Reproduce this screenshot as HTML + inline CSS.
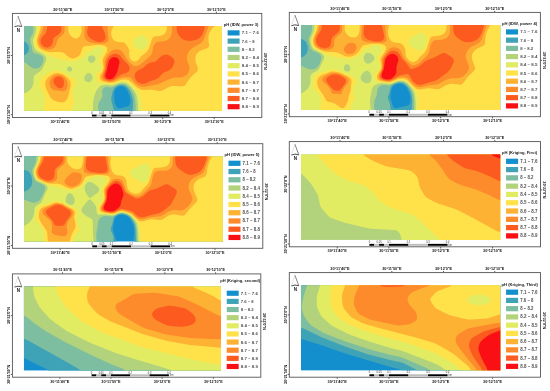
<!DOCTYPE html><html><head><meta charset="utf-8"><title>pH interpolation maps</title><style>
html,body{margin:0;padding:0;background:#fff}svg{display:block}
text{font-family:"Liberation Sans",sans-serif}
.t{font-size:4.3px;font-weight:bold;fill:#111}
.lt{font-size:4.3px;font-weight:bold;fill:#222}
.l{font-size:4.4px;fill:#505050;font-weight:bold}
.s{font-size:2.6px;fill:#333}
.k{stroke:#333;stroke-width:0.8;fill:none}
</style></head><body>
<svg width="550" height="391" viewBox="0 0 550 391">
<rect width="550" height="391" fill="#fff"/>
<g transform="translate(12.40 13.40) scale(1.0000 1.0000)">
<text class="t" x="40.7" y="-2.5" textLength="19.2" lengthAdjust="spacingAndGlyphs">30°11'40"E</text>
<text class="t" x="38" y="109.6" textLength="19.2" lengthAdjust="spacingAndGlyphs">30°11'40"E</text>
<path class="k" d="M50.3,0v-1.6M47.6,104.1v1.6"/>
<text class="t" x="92.2" y="-2.5" textLength="19.2" lengthAdjust="spacingAndGlyphs">30°11'50"E</text>
<text class="t" x="89.3" y="109.6" textLength="19.2" lengthAdjust="spacingAndGlyphs">30°11'50"E</text>
<path class="k" d="M101.8,0v-1.6M98.9,104.1v1.6"/>
<text class="t" x="144.6" y="-2.5" textLength="17.0" lengthAdjust="spacingAndGlyphs">30°12'0"E</text>
<text class="t" x="141.8" y="109.6" textLength="17.0" lengthAdjust="spacingAndGlyphs">30°12'0"E</text>
<path class="k" d="M153.1,0v-1.6M150.3,104.1v1.6"/>
<text class="t" x="194.6" y="-2.5" textLength="18.8" lengthAdjust="spacingAndGlyphs">30°12'10"E</text>
<text class="t" x="192.4" y="109.6" textLength="18.8" lengthAdjust="spacingAndGlyphs">30°12'10"E</text>
<path class="k" d="M204,0v-1.6M201.8,104.1v1.6"/>
<text class="t" transform="translate(-2.6 42.1) rotate(-90)" x="-8.5" textLength="17.0" lengthAdjust="spacingAndGlyphs">30°22'0"N</text>
<path class="k" d="M0,42.1h-1.6"/>
<text class="t" transform="translate(-2.6 101.3) rotate(-90)" x="-9.5" textLength="19.0" lengthAdjust="spacingAndGlyphs">30°21'50"N</text>
<path class="k" d="M0,101.3h-1.6"/>
<text class="t" transform="translate(251.6 47.8) rotate(90)" x="-8.5" textLength="17.0" lengthAdjust="spacingAndGlyphs">30°22'0"N</text>
<path class="k" d="M249.4,47.8h1.6"/>
<rect x="0" y="0" width="249.4" height="104.1" fill="#fff" stroke="#555" stroke-width="0.9"/>
<g transform="translate(11.6 12.7)">
<rect x="0" y="0" width="197.8" height="84.6" fill="#138fce"/>
<path fill="#3fa3b7" fill-rule="evenodd" d="M0,0 197.8,0 197.8,84.6 0,84.6ZM94.9,60.4 93.4,61.1 91.7,62.6 90.9,64.1 90.3,66.1 90.1,68.6 90.4,73.6 90.7,76.1 91.6,78.6 92.4,80.2 93.4,81.3 94.4,81.9 95.4,82.1 97.9,81.9 103.4,80.5 104.7,79.6 105.6,78.6 106.2,77.1 106.5,75.1 106.5,73.6 106.1,71.6 103.9,65.6 102.4,62.9 101.4,61.9 100.3,61.1 99.3,60.6 97.9,60.2 96.4,60.2Z"/>
<path fill="#7dbda0" fill-rule="evenodd" d="M0,0 197.8,0 197.8,84.6 108.5,84.6 109,77.1 108.9,74.1 108.2,70.6 106.9,67.1 105.1,63.6 102.9,61 101.7,60.1 100.4,59.4 98.9,59 97.4,58.8 95.9,58.9 94.4,59.3 91.9,60.6 90.7,61.6 89.9,62.6 88.8,65.1 87.5,70.1 87.2,73.1 87.5,75.1 88.9,80.2 89.8,84.6 0,84.6 0,29.1 2,28.2 3.5,26.7 4.5,25 5,22.5 4.6,20 3.5,18 2,16.5 0,15.5Z"/>
<path fill="#b2d27c" fill-rule="evenodd" d="M8.7,0 197.8,0 197.8,84.6 111.6,84.6 111.4,77.1 111.1,73.6 110.4,70.1 109,66.6 106.5,62.6 103.9,59.8 102.4,58.8 100.9,58.1 99.4,57.8 97.9,57.6 95.9,57.8 93.9,58.3 92.1,59.1 88.9,60.8 87.4,61.4 86.4,61.4 83.9,60.8 82.4,60.7 80.9,61.1 79.4,62.1 78.5,63.6 78.1,65.1 78.1,66.6 78.5,69.1 78.4,70.6 77.6,72.1 75.4,75.3 74.4,78.1 74.1,81.1 74.6,84.6 0,84.6 0,36.4 1.5,36.7 2.5,37.3 6,40.4 8,41.7 10,42.4 12.5,42.5 14,42.1 15,41.6 17,39.9 18,38.5 18.7,37 19.5,34.3 19.5,33 19.2,32 18.7,31 17.9,30 15.5,28.5 10,26.9 9.1,26 8.7,25 7.7,20 6.1,15 6,13.5 6.3,12 8.5,8.2 9.2,6 9.4,4.5 9.4,3Z"/>
<path fill="#e2ec62" fill-rule="evenodd" d="M12,0 197.8,0 197.8,84.6 114.2,84.6 114,78.1 113.4,73.1 112.5,69.1 111.2,66.1 108.3,62.1 106.5,60.1 104.9,58.6 103.4,57.7 101.9,57 100.4,56.6 98.4,56.4 96.9,56.5 94.9,56.8 89.9,58.7 88.4,59.1 86.9,59.1 82.4,58.5 79.4,58.8 76.9,59.7 75.6,60.6 74.5,61.6 73.2,63.1 72.1,65.1 70.6,69.1 69.5,73.1 68.9,77.1 69,84.6 0,84.6 0,67.3 2,66.6 4,65.4 6,63.8 7.5,62 8.5,60.1 9.2,58.1 9.5,55.6 9.6,51.6 10,49.9 11.1,48.6 16,45.5 18,43.5 19.3,41 21.7,35.5 22.3,33.5 22.3,32.5 22.1,31.5 21.6,30.5 20.8,29.5 18.5,27.7 13.5,25.1 12,24 10.9,22.5 9.9,20 9.1,16.5 9,14 9.4,12.5 11.1,8 11.8,5.5 12.1,3ZM45,40.4 44,41 43.5,41.5 43.2,42.6 43.2,43.6 43.7,44.6 44.5,45.2 45.5,45.6 46.5,45.4 47.5,44.8 47.9,44.1 48.1,43.1 48,42.2 47.5,41.3 46.5,40.6ZM66.4,29.4 65.3,30 64.4,31 63.9,32.5 64,34 64.8,35.5 65.9,36.5 66.9,36.8 68.4,36.7 69.9,36 70.9,34.8 71.4,33.5 71.4,32 70.5,30.5 69.4,29.7 67.9,29.2ZM63.9,47 62.4,47.8 61.2,49.1 60.4,50.6 60.2,51.6 60.2,52.6 60.8,54.1 61.9,55.2 63.4,55.9 64.9,56.1 66.4,55.6 67.6,54.6 68.4,53 68.6,51.1 68,49.1 66.9,47.8 65.4,47Z"/>
<path fill="#ffe14a" fill-rule="evenodd" d="M14.3,0 197.8,0 197.8,84.6 117.5,84.6 117.7,77.6 116.3,70.1 115.6,68.1 114.4,66.1 112.7,64.1 107.4,58.6 104.9,56.6 103.4,55.8 101.9,55.3 100.4,55.1 98.4,55 95.4,55.5 89.4,57.6 86.9,57.8 75.9,56.8 74.4,56.3 73.7,55.6 73.2,54.6 72.8,52.6 72.6,49.6 72.8,48.1 73.4,47 75.4,45.6 76.6,44.6 77.4,43.3 77.7,42 77.4,40 75.6,37 75.3,35.5 75.6,32.5 76,30.5 76.5,29.5 78.5,27 79.4,25 79.4,24 79.2,23 78.5,22 78,21.5 76.9,21 75.4,20.6 73.9,20.6 72.4,21 71.4,21.5 68.4,23.7 64.9,24.8 62.9,25.9 61.4,27.3 59.2,30.5 57.9,31.8 49.5,35.2 48,35.3 45.5,35 42.5,34.4 38,33.1 33,32.4 31.5,32 26.5,29.8 16,24.4 13.6,22.5 12.2,20.5 11.2,17.5 11,14.5 11.5,12 13.8,5 14.2,2.5ZM116.4,9.4 113.4,10.6 111.9,11.5 110.8,12.5 109.5,14.5 109.3,15.5 109.2,17 109.6,18.5 110,19.5 110.7,20.5 111.9,21.7 113.4,22.7 114.9,23.3 116.4,23.7 117.9,23.7 119.4,23.3 120.4,22.8 121.4,22 122.1,21 122.9,19.7 123.4,18 123.6,15 123.4,13.5 122.9,12.3 121.4,10.4 120.4,9.7 118.9,9.3 117.9,9.2ZM29.3,44.6 30.5,44.1 32,44.1 39.5,46.3 44,49.2 49,51.8 50.3,53.1 51.2,54.6 51.6,56.1 51.6,57.1 51.1,58.6 49.5,62.4 48.9,65.6 49,68.1 50.2,72.6 50.3,74.6 50,76.1 48.4,81.1 47.9,84.6 20.1,84.6 20.1,80.1 21,74.6 20.9,71.6 20.5,69.7 19.9,68.1 16.7,62.6 16.1,61.1 15.7,59.6 15.6,58.1 16,55.1 16.5,53.6 17.3,52.1 18.5,50.6 19.7,49.6 22.5,47.8Z"/>
<path fill="#fdb233" fill-rule="evenodd" d="M16.7,0 44.4,0 44.1,2.5 44.2,4.5 44.7,6.5 45.4,8 47,9.9 48.5,11.2 50.4,12.2 51.9,12.4 53.4,12.1 54.4,11.5 55.4,10.5 56.4,8.8 57.2,6.5 57.6,4.5 57.6,2.5 57.4,0 89.9,0 87.9,3.5 87.3,6 87.2,7.5 87.4,9.3 87.9,11 88.6,12.5 89.9,14.1 91.9,15.3 93.9,15.8 98.9,16.1 100.4,16.7 101.4,17.6 102.4,18.8 103.9,21 105.2,24 105.4,25.5 105.2,29.5 105.4,31 105.9,32.2 106.8,33.5 107.9,34.5 109.4,35.3 110.9,35.5 112.9,35 114.3,34 115.2,33 117.4,30 121.9,26.6 123.4,25 125,22 127.9,13.3 128.9,11.5 129.9,10.7 130.9,10.4 135.1,10 137.4,9.5 139.4,8.6 140.9,7.3 141.9,5.8 142.5,4 142.8,2 142.7,0 190.8,0 188.3,2.4 186.8,4.2 185.8,6 184.8,8.5 184.3,12 184.4,14.5 185.1,19 185.1,20 184.7,21 183.3,22.1 178.3,23.8 175.8,25 173.5,27 172.7,28 171.9,29.5 171.3,32 171.4,34.5 171.9,36.5 173.6,41 173.9,42.6 173.7,44.1 172.8,45.6 166.8,51.1 164.8,53.6 161.5,58.6 160.8,59.3 159.8,60 157.8,60.4 151.3,59.8 147.9,60 144.4,61.2 138.4,64.4 135.9,64.9 134.4,64.8 127.9,63.6 125.4,63.6 119.9,63.9 118.4,63.8 116.9,63.4 114.9,62.5 112.4,60.8 105.9,54.8 104.4,54 102.4,53.5 99.9,53.3 96.9,53.7 94.9,54.3 89.9,56.3 87.4,56.7 84.9,56.6 80.9,55.9 78.9,55.4 77.4,54.5 76.2,53.1 75.9,52.1 75.7,50.6 76.1,49.1 78.5,45.1 79.4,42.6 79.5,40.5 78.6,35.5 78.7,33.5 79.5,31.5 82.5,26.5 83.1,25 83.3,23.5 83.1,22 82.5,21 81.4,20.1 80.1,19.5 76.9,18.8 73.4,18.7 66.4,19.6 61.9,19.9 59.9,20.5 59.1,21 58.4,21.9 56.8,27 55.6,29 54.6,30 52.9,31.1 50.9,32 49.5,32.3 47.5,32.2 45.5,31.4 43.4,30 40.5,27.3 39.5,26.6 38,26.1 34.5,25.7 28,26.1 25,25.9 21.5,25.2 18,23.7 16,22.4 14.3,20.5 13.1,18 12.7,15.5 13.1,12.5 15.8,5 16.4,2.5ZM31.5,47.1 33.5,47 36,47.4 38,47.9 40,48.9 42.3,50.6 44.4,52.6 45.6,54.1 46.5,56.1 46.8,58.1 46.6,60.1 44,71 43,73.1 42,74.5 41,75.4 39.5,76.2 37.5,76.4 34.5,75.8 30,74.4 28,73.1 26.7,71.6 25.5,69.5 22.6,63.6 21.5,60.6 21.2,58.6 21.3,56.6 21.8,54.6 23,52.6 24.9,50.6 26.9,49.1 29.5,47.7Z"/>
<path fill="#fd8a2b" fill-rule="evenodd" d="M19.4,0.5 19.5,0 40.6,0 40.5,4.7 40.2,6 39.6,7.5 38.8,8.5 35.4,11.5 34.2,13 33.2,15 32.1,18.5 31,20.5 29.3,22 27,23.2 25.3,23.5 23.5,23.6 21.5,23.3 19.5,22.6 18,21.8 16.5,20.5 15.4,19 14.8,17.5 14.4,15 14.8,12.5 15.6,10.5 18.3,5ZM60.9,0.5 61,0 83.4,0 83.7,5 84.5,12 84.4,14 83.8,15.5 82.7,16.5 81.3,17 78.9,17.3 75.4,17.4 71.4,17.1 67.9,16.6 65.4,15.9 63.4,14.9 62.4,14 61.5,13 60.9,11.9 60.5,10.5 60.3,7ZM148.1,0 184.7,0 180.3,11.9 179.3,14.1 178.3,15.5 177.3,16.6 175.8,17.7 169.9,21 167.3,22.8 165.5,24.5 164,27 163,30 162.8,33 163.2,35 165.2,40 165.5,41.5 165.5,43.1 165.2,44.6 164.3,46.5 163.2,48.1 161.8,49.3 159.8,50.5 157.8,51.2 155.8,51.4 150.8,51.4 147.4,52.2 143.4,53.8 136.9,57 133.9,58.1 122.4,60.3 119.9,60.6 116.9,60.4 115.4,60 113.7,59.1 111.2,57.1 106.9,52 105.9,51.4 104.9,51.1 101.9,50.9 97.9,51.5 95.4,52.3 89.9,55 86.9,55.7 84.4,55.6 81.9,55 79.9,54.1 78.8,53.1 78,51.6 77.9,50.1 78.2,48.6 80,44.6 80.5,42.6 80.7,40 80.7,35.5 81.1,33.5 82.1,31.5 83.4,29.5 85.9,26.5 87.9,24.6 89.9,23.6 91.9,23.2 94.4,23.5 96.4,24.2 97.9,25.3 98.9,26.3 103.2,33.5 105.4,36.1 107.9,38.4 109.4,39.4 110.9,39.9 112.4,39.9 114.4,39.3 116.4,38.3 118.1,37 125.1,31 127,29 127.6,28 128.2,26.5 128.9,22.3 129.4,20.4 130.4,18.4 131.5,17 132.9,16.2 134.4,15.6 139.9,15.1 141.9,14.6 143.9,13.6 145.7,12 146.9,10.2 147.5,8 147.9,5ZM31.4,49.1 33,48.7 34.5,48.7 36,48.9 37.5,49.3 38.9,50.1 40.2,51.1 42.2,53.6 43,55.1 43.5,56.6 43.6,59.6 43.4,61.1 42.8,62.6 42,63.9 41.2,64.6 40,65 39,65.1 30.5,64.2 28.5,63.4 27.5,62.6 26.8,61.6 26.1,60.1 25.6,58.1 25.6,56.1 26,54.6 27,52.6 28.2,51.1 29.5,50Z"/>
<path fill="#fc5a1e" fill-rule="evenodd" d="M23.4,0 37.2,0 37.5,3 37.1,5 36,7 34.5,8.5 30.7,11 29.7,12 29.3,13 28.6,17 27.6,19 26.6,20 25.5,20.7 24.5,21.1 23,21.3 21.5,21.1 20.5,20.8 18.5,19.5 17.7,18.5 17.1,17.5 16.8,16.5 16.6,15 17,13 18,11 19,9.8 21.4,7.5 22.1,6.5 22.4,5.5ZM64.6,0 77.6,0 80.4,6 81.4,9 81.5,10.5 81.4,12 81.1,13 80.5,14 79.3,15 77.9,15.6 75.9,15.8 73.9,15.7 72.4,15.4 70.4,14.5 66.9,12.6 65.5,11.5 64.6,10.5 63.9,9.4 63.4,8 63.2,6.5 63.4,3.5ZM152.7,0 180.9,0 180.3,3.4 179.3,6.4 177.8,9.3 176.3,11.1 174.3,12.6 171.8,13.8 168.8,14.5 165.8,14.8 162.8,14.5 160.3,13.8 157.8,12.4 155.6,10.5 154.2,8.5 153.2,6 152.7,3.5ZM89.3,28 90.9,27.7 92.9,27.9 94.9,28.7 96.4,29.8 99.9,34.3 102.9,37.1 104.5,39 105.3,40.5 105.5,41.5 105.5,43.6 104.8,45.1 103.4,46.2 101.7,47.1 98.4,48 96.9,48.6 89.9,53.6 87.4,54.5 85.9,54.6 84.4,54.5 81.9,53.6 80.5,52.6 79.7,51.1 79.6,49.1 81.4,43.6 82.5,36 83.3,33.5 84.4,31.6 85.9,30 87.4,28.9ZM139.7,29 141.9,28.5 142.9,28.6 144.4,29 147.6,31 149.2,32.5 149.9,33.5 150.4,35.5 150.1,37.5 149.1,40 147.2,42.6 144.9,44.3 139.4,46.7 138.4,47.5 135.4,50.9 133.1,52.6 130.9,53.6 126.4,55 122,57.1 119.9,57.6 117.4,57.6 115.4,57 113.3,55.6 112.4,54.5 111.5,53.1 111,51.6 110.7,50.1 110.8,48.6 111.1,47.6 111.6,46.6 112.4,45.6 114.4,44.1 118.9,41.8 122.8,38.5 124.4,37.5 126.9,36.5 130.9,35.6 132.1,35 136.3,31 137.9,30ZM33.1,50.6 35,50.4 37,50.9 38.5,52.1 39.5,53.6 39.8,54.6 40,56.1 39.5,59.6 38.7,61.1 37.5,61.9 36.5,62.1 35.5,62.1 33.5,61.3 31,58.9 29.8,57.1 29.5,55.1 30,53.1 31.2,51.6Z"/>
<path fill="#fa0f14" fill-rule="evenodd" d="M88.2,31.5 89.4,31.1 90.9,31.1 92.4,31.4 93.4,32 94.4,33 95,34 95.4,35.5 95.4,37 93.3,45.6 92.3,47.6 90.8,50.1 89.6,51.6 88.2,52.6 86.7,53.1 84.9,53.1 83.2,52.6 82,51.6 81.3,50.1 81.3,48.6 82.7,44.6 83.4,41 85,35 85.5,34 86.4,32.8Z"/>
</g>
<path d="M5.6,2.7L2.1,13.1" stroke="#c8c8c8" stroke-width="0.5" fill="none"/>
<path d="M5.6,2.7L9.4,13.1" stroke="#333" stroke-width="0.6" fill="none"/>
<path d="M2.1,13.3Q5.5,11.6 9.4,13.1" stroke="#222" stroke-width="0.8" fill="none"/>
<text x="6" y="18.2" text-anchor="middle" font-size="4.6" font-weight="bold" fill="#222">N</text>
<text class="lt" x="211.4" y="12.7" textLength="34.5" lengthAdjust="spacingAndGlyphs">pH (IDW, power 3)</text>
<rect x="215.2" y="16.9" width="12" height="5.2" fill="#138fce"/>
<text class="l" x="229.3" y="21" textLength="17.2" lengthAdjust="spacingAndGlyphs">7.1 – 7.6</text>
<rect x="215.2" y="25.1" width="12" height="5.2" fill="#3fa3b7"/>
<text class="l" x="229.3" y="29.2" textLength="13.0" lengthAdjust="spacingAndGlyphs">7.6 – 8</text>
<rect x="215.2" y="33.3" width="12" height="5.2" fill="#7dbda0"/>
<text class="l" x="229.3" y="37.4" textLength="13.0" lengthAdjust="spacingAndGlyphs">8 – 8.2</text>
<rect x="215.2" y="41.5" width="12" height="5.2" fill="#b2d27c"/>
<text class="l" x="229.3" y="45.6" textLength="17.2" lengthAdjust="spacingAndGlyphs">8.2 – 8.4</text>
<rect x="215.2" y="49.7" width="12" height="5.2" fill="#e2ec62"/>
<text class="l" x="229.3" y="53.8" textLength="17.2" lengthAdjust="spacingAndGlyphs">8.4 – 8.5</text>
<rect x="215.2" y="57.9" width="12" height="5.2" fill="#ffe14a"/>
<text class="l" x="229.3" y="62" textLength="17.2" lengthAdjust="spacingAndGlyphs">8.5 – 8.6</text>
<rect x="215.2" y="66.1" width="12" height="5.2" fill="#fdb233"/>
<text class="l" x="229.3" y="70.2" textLength="17.2" lengthAdjust="spacingAndGlyphs">8.6 – 8.7</text>
<rect x="215.2" y="74.3" width="12" height="5.2" fill="#fd8a2b"/>
<text class="l" x="229.3" y="78.4" textLength="17.2" lengthAdjust="spacingAndGlyphs">8.7 – 8.7</text>
<rect x="215.2" y="82.5" width="12" height="5.2" fill="#fc5a1e"/>
<text class="l" x="229.3" y="86.6" textLength="17.2" lengthAdjust="spacingAndGlyphs">8.7 – 8.8</text>
<rect x="215.2" y="90.7" width="12" height="5.2" fill="#fa0f14"/>
<text class="l" x="229.3" y="94.8" textLength="17.2" lengthAdjust="spacingAndGlyphs">8.8 – 8.9</text>
<rect x="79.5" y="101.2" width="4.8" height="1.9" fill="#000"/>
<rect x="84.3" y="101.2" width="4.8" height="1.9" fill="#bdbdbd"/>
<rect x="89.2" y="101.2" width="4.8" height="1.9" fill="#000"/>
<rect x="94" y="101.2" width="4.8" height="1.9" fill="#bdbdbd"/>
<rect x="98.9" y="101.2" width="19.4" height="1.9" fill="#000"/>
<rect x="118.3" y="101.2" width="19.4" height="1.9" fill="#bdbdbd"/>
<rect x="137.7" y="101.2" width="19.4" height="1.9" fill="#000"/>
<text class="s" x="79.5" y="100.4" text-anchor="middle">0</text>
<text class="s" x="89.2" y="100.4" text-anchor="middle">0.05</text>
<text class="s" x="98.9" y="100.4" text-anchor="middle">0.1</text>
<text class="s" x="118.3" y="100.4" text-anchor="middle">0.2</text>
<text class="s" x="137.7" y="100.4" text-anchor="middle">0.3</text>
<text class="s" x="157.1" y="100.4" text-anchor="middle">0.4</text>
<text class="s" x="158.1" y="103">km</text>
</g>
<g transform="translate(289.30 12.40) scale(1.0068 1.0019)">
<text class="t" x="40.7" y="-2.5" textLength="19.2" lengthAdjust="spacingAndGlyphs">30°11'40"E</text>
<text class="t" x="38" y="109.6" textLength="19.2" lengthAdjust="spacingAndGlyphs">30°11'40"E</text>
<path class="k" d="M50.3,0v-1.6M47.6,104.1v1.6"/>
<text class="t" x="92.2" y="-2.5" textLength="19.2" lengthAdjust="spacingAndGlyphs">30°11'50"E</text>
<text class="t" x="89.3" y="109.6" textLength="19.2" lengthAdjust="spacingAndGlyphs">30°11'50"E</text>
<path class="k" d="M101.8,0v-1.6M98.9,104.1v1.6"/>
<text class="t" x="144.6" y="-2.5" textLength="17.0" lengthAdjust="spacingAndGlyphs">30°12'0"E</text>
<text class="t" x="141.8" y="109.6" textLength="17.0" lengthAdjust="spacingAndGlyphs">30°12'0"E</text>
<path class="k" d="M153.1,0v-1.6M150.3,104.1v1.6"/>
<text class="t" x="194.6" y="-2.5" textLength="18.8" lengthAdjust="spacingAndGlyphs">30°12'10"E</text>
<text class="t" x="192.4" y="109.6" textLength="18.8" lengthAdjust="spacingAndGlyphs">30°12'10"E</text>
<path class="k" d="M204,0v-1.6M201.8,104.1v1.6"/>
<text class="t" transform="translate(-2.6 42.1) rotate(-90)" x="-8.5" textLength="17.0" lengthAdjust="spacingAndGlyphs">30°22'0"N</text>
<path class="k" d="M0,42.1h-1.6"/>
<text class="t" transform="translate(-2.6 101.3) rotate(-90)" x="-9.5" textLength="19.0" lengthAdjust="spacingAndGlyphs">30°21'50"N</text>
<path class="k" d="M0,101.3h-1.6"/>
<text class="t" transform="translate(251.6 47.8) rotate(90)" x="-8.5" textLength="17.0" lengthAdjust="spacingAndGlyphs">30°22'0"N</text>
<path class="k" d="M249.4,47.8h1.6"/>
<rect x="0" y="0" width="249.4" height="104.1" fill="#fff" stroke="#555" stroke-width="0.9"/>
<g transform="translate(11.6 12.7)">
<rect x="0" y="0" width="197.8" height="84.6" fill="#138fce"/>
<path fill="#3fa3b7" fill-rule="evenodd" d="M0,0 197.8,0 197.8,84.6 0,84.6ZM96.4,58.5 94.9,58.9 93.4,59.6 92,60.6 90.9,61.8 90.3,63.1 89.9,64.6 89,70.1 88.9,72.1 89.1,73.6 90.9,79.5 91.6,81.1 92.4,82.2 92.9,82.6 93.9,83 95.4,82.8 99.9,81.6 104.9,80.7 106.4,80.2 107.4,79.3 107.9,78.5 108.4,77.1 108.6,75.6 108.6,72.6 107.9,69.1 106.4,65.1 105,62.6 103.2,60.6 100.9,59.1 98.9,58.5Z"/>
<path fill="#7dbda0" fill-rule="evenodd" d="M0,0 197.8,0 197.8,84.6 110,84.6 110.5,76.6 110.4,73.6 109.9,69.6 108.7,66.1 106.4,62.1 103.9,59.4 102.4,58.4 100.9,57.8 99.4,57.4 97.9,57.3 94.9,57.9 91.9,59.3 89.8,61.1 88.8,63.1 87.9,66.9 86.5,71.1 86.3,72.6 86.6,74.1 87.9,77.3 88.6,79.6 89,82.1 89,84.6 0,84.6 0,32.3 1.5,31.8 2.9,31 5,29.1 5.7,28 6.3,26.5 6.8,23.5 6.7,21.5 6.4,20 5.8,18.5 5,16.9 4,15.8 3,15 1.5,14.2 0,13.8Z"/>
<path fill="#b2d27c" fill-rule="evenodd" d="M10.8,0 197.8,0 197.8,84.6 112.3,84.6 112.2,76.6 111.8,72.1 111.2,68.6 110.1,65.6 107.5,61.6 105.9,59.7 104.4,58.3 102.9,57.4 101.4,56.8 98.4,56.4 96.4,56.6 94.4,57.2 87.9,60.2 86.4,60.3 83.4,59.8 81.4,59.8 80.1,60.1 78.9,60.6 77.4,61.7 76.5,63.1 75.9,64.4 75.2,70.1 73.4,74.6 72.9,76.6 72.6,80.1 73,84.6 0,84.6 0,40.5 1.5,41 5.5,43.1 8,43.9 11,44.2 13.5,43.7 15.5,42.5 16.5,41.5 17.5,40.2 19.5,36.2 20.4,33 20.2,31 19.3,29.5 17,27.9 12,25.8 11,25.2 10.1,24 9.3,22 7.7,16 7.5,14 7.8,12.5 10,7.9 10.7,5.5 11,3Z"/>
<path fill="#e2ec62" fill-rule="evenodd" d="M13.3,0 197.8,0 197.8,84.6 114,84.6 114,78.1 113.5,72.6 113,68.6 112.1,66.1 110.8,64.1 108.9,61.6 106.7,59.1 105.1,57.6 103.9,56.7 102.4,56 100.9,55.6 98.9,55.4 97.4,55.5 95.4,56 89.9,58.3 88.4,58.6 86.9,58.6 81.9,58 79.9,58 77.9,58.2 76.4,58.6 74.4,59.4 73.3,60.1 72.1,61.1 71,62.6 70.3,64.6 68.8,72.6 68.6,76.1 69.1,84.6 0,84.6 0,68.2 2,67.4 4,66.1 6,64.2 7.3,62.6 8.4,60.6 9.1,58.1 9.4,55.6 9.4,51.1 9.8,49.6 11,48.4 15.5,45.9 17.7,44.1 18.9,42 20.5,38.3 22.6,34 23.1,32.5 23.1,31.5 22.8,30.5 21.6,29 19.5,27.5 14,24.7 12.5,23.7 11.2,22 10.2,19.5 9.5,16.5 9.5,14 10.1,12 12,7.7 12.7,5.5 13.2,3ZM45,39 44,39.6 43,40.9 42.5,42.6 42.6,44.1 43.2,45.1 44.5,46 46,46.3 47,46.2 48.2,45.6 48.8,44.6 49.1,43.6 48.9,42 48.5,40.9 47.5,39.7 46.2,39ZM64.9,27.9 63.5,29 62.6,30.5 62.2,32.5 62.4,34.3 63.4,36.5 64.9,38 66.4,38.5 67.9,38.3 69.9,37.3 71.9,35.5 72.5,34.5 72.8,33.5 72.8,32 72.4,31 71.6,30 69.4,28.4 68.4,27.9 66.9,27.6 65.9,27.6ZM64.9,45.5 63.9,45.8 62.9,46.5 60.9,48.6 59.5,51.1 59.2,52.1 59.2,53.1 59.9,54.9 61.5,56.6 63.4,57.6 64.9,58 65.9,58 67.7,57.6 68.9,56.4 69.4,55.6 69.9,54.1 70.1,51.6 69.5,49.1 68.4,47.4 66.9,46.1 65.9,45.6Z"/>
<path fill="#ffe14a" fill-rule="evenodd" d="M15,0 197.8,0 197.8,84.6 116.4,84.6 116.7,77.6 115.6,69.6 115.1,67.6 114.3,66.1 113.1,64.6 106.9,57.7 104.9,56 103.4,55.2 101.9,54.7 100.4,54.5 98.4,54.5 95.4,55.2 89.9,57.4 87.4,57.7 76.4,56.5 74.9,56 74.1,55.1 73.7,54.1 73.4,52.1 73.6,49.1 74,48.1 76.4,45.9 77.4,44.7 78,43.6 78.4,42 78.3,40 76.7,36 76.6,34.5 76.9,32.5 77.4,31 79.9,27.5 80.9,25.3 81.1,24 80.9,23 79.8,21.5 78.1,20.5 75.9,20 73.4,20 71.3,20.5 67.9,22.1 64.4,23.3 62.9,24.1 61.3,25.5 58.4,29.3 56.9,30.5 50.4,33.3 48.5,33.8 46.5,33.9 43.5,33.6 37.5,32.2 32.5,31.5 30.5,30.9 25,28.7 15.5,24.2 13.3,22.5 12,20.7 10.9,17.5 10.8,16 10.8,14.5 11.3,12.5 14.3,5 14.8,2.5ZM117.9,7.9 112.4,10.4 108.9,12.5 108,13.5 107.3,14.5 106.9,16.5 107.2,18 107.6,19 108.6,20.5 109.7,21.5 111.9,23 114.4,24.2 116.4,25 118.4,25.3 119.9,25 120.9,24.5 121.9,23.7 122.9,22.3 123.7,20.5 124.4,18.5 124.9,16 125,14 124.8,12.5 124.3,11 123.4,9.5 122.5,8.5 121.4,7.8 120.4,7.6 119.4,7.5ZM30,44.1 31.5,43.9 35,45.1 39,45.9 40,46.3 44,48.6 49.9,50.5 51,51.1 52.2,52.1 54,54.6 54.5,56.1 54.5,57.6 52.4,61.6 51.8,63.6 51.5,66.1 51.8,69.1 52.9,72.6 53,73.6 52.5,75.1 50.7,78.1 49.8,80.1 49.1,82.6 48.8,84.6 19.7,84.6 19.5,80.6 20.1,75.6 19.9,73.1 19.2,71.1 18,68.9 16,66.4 13.3,63.6 12.4,62.1 12.2,60.6 12.2,59.1 12.9,53.6 13.5,51.9 14.4,50.6 15.6,49.6 17.5,48.3 20,47.2 26.5,45.6Z"/>
<path fill="#fdb233" fill-rule="evenodd" d="M16.5,0 43.6,0 43.4,3 43.6,5 44,6.5 45,8.3 46.5,10 48.5,11.5 50.4,12.2 52.4,12.4 53.9,12.2 54.9,11.8 55.9,11 56.9,9.5 57.7,7.5 58.2,5 58.4,2.5 58.3,0 87.9,0 86.8,3.5 86.4,7 86.9,10.5 87.4,12.1 88.4,14.2 89.9,16 91.4,16.9 93.4,17.4 98.4,18 99.9,18.7 100.9,19.5 102.4,21.5 103.4,23.5 103.7,25 104,29.5 104.4,31 105.2,32.5 106.4,34.2 108,35.5 109.9,36.5 111.4,36.7 113.4,36.3 115.4,35 118.7,31 121.9,28.2 123.4,26.6 124.9,23.5 127.9,14.2 128.5,13 129.4,11.9 130.4,11.3 131.4,11.1 136.4,10.7 138.9,10.2 140.9,9.2 142.4,8 143.4,6.5 144.2,4.5 144.5,2.5 144.5,0 188.3,0 185.3,4.9 183.9,8.5 183.2,12 182.9,18 182.3,19.5 180.8,20.8 175.8,23 173.4,24.5 171.4,26.5 170.3,28.5 169.8,30.5 169.8,33 170.6,36 172.7,41.5 173,43.1 172.6,44.6 171.5,46.1 165.8,51.6 161.3,57.6 160.4,58.6 159.3,59.2 157.8,59.5 150.8,58.6 148.8,58.6 146.9,58.9 143.9,60 138.4,63.3 136.4,64 134.4,64.1 129.9,63.3 126.9,63.1 124.4,63.3 118.4,64.3 115.9,63.9 113.9,62.9 110.9,60.4 105.9,55.2 104.4,54.2 102.9,53.7 100.4,53.4 97.4,53.6 94.9,54.4 89.9,56.6 87.4,56.9 83.9,56.6 78.9,55.7 77.3,55.1 76.2,54.1 75.7,53.1 75.5,52.1 75.7,50.1 76.2,49.1 78.9,44.9 79.5,43.6 79.8,42 79.8,39.5 79,35 79.2,33 80.2,31 83.3,26.5 84,25 84.5,23.5 84.5,22 84.1,21 82.9,20 81.9,19.6 80,19 77.9,18.7 72.9,18.5 69.4,18.8 62.4,20.1 61.4,20.6 60.4,21.5 57.4,26.5 55.4,28.5 53.9,29.5 51.4,30.7 49.5,31.3 47.5,31.6 45.5,31.4 43.5,30.8 38.5,28.3 36,27.3 33.5,26.9 27.5,26.9 24.5,26.6 20,25.2 16,23.2 14,21.5 13,20 12.3,18 12,15.5 12.1,14 12.7,12 15.8,4.5 16.2,2.5ZM29.4,46.6 31,46.2 32.5,46.3 38,47.3 39.5,47.8 46.2,51.1 47.8,52.1 49.4,53.6 50.1,55.1 50.3,56.6 49.7,60.1 49.5,64.6 49,66.6 47.6,70.1 46.6,75.6 45.6,78.1 44.5,80.3 43,82.2 42,82.8 41,83 40,82.6 35.8,79.6 32.9,78.1 30,77.1 27,76.5 25.5,75.7 24.5,74.3 22.7,70.6 18.5,64.6 16.6,60.6 16,58.1 16.1,56.1 16.5,54.1 17.8,52.1 19,51 21,49.8Z"/>
<path fill="#fd8a2b" fill-rule="evenodd" d="M18.3,0 41,0 40.9,4.5 40.3,7 39.5,8.1 35.8,11 34,13 33.5,14.1 33.1,15.5 32.9,19.5 32.6,21 31.7,22.5 30.5,23.5 29.5,24 27.5,24.7 25.5,24.9 23.5,24.8 21,24.3 18.5,23.3 16.4,22 15,20.6 14,19 13.3,16.5 13.3,15 13.5,13.5 14.5,10.6 17.4,4.5 17.9,2.5ZM60.7,0 83.8,0 83.9,5 84.9,13.5 84.9,15 84.5,16 83.9,16.7 82.4,17.3 80.4,17.5 76.9,17.5 65.9,17 63.4,16.4 61.5,15.5 60.2,14 59.7,12 59.8,9.5ZM148.1,0 184.5,0 179.9,13 179.3,14.5 178.3,16 177.3,17 176,18 170.3,21 168,22.5 165.9,24.5 164.7,26.5 163.8,29.5 163.7,31 163.8,32.5 164.3,34.5 166.6,40 166.9,41.5 166.8,43.1 166.2,45.1 165.1,47.1 163.3,49.1 161.3,50.9 159.3,52.1 156.8,52.9 154.8,53.1 150.3,53 148.4,53.3 146.4,53.8 142.9,55.3 137.4,58.3 134.9,59.2 132.9,59.6 126.9,60.2 120.4,61.6 117.9,61.9 115.4,61.5 112.9,60.2 110.5,58.1 106.4,53.4 105.4,52.7 103.9,52.2 100.9,51.9 97.4,52.4 94.9,53.3 90.3,55.6 88.9,56 87.4,56.2 84.4,56 80.9,55.2 79.2,54.6 77.9,53.6 77.2,52.1 77.2,50.6 77.7,49.1 79.9,44.8 80.5,43.1 80.8,40 80.5,35 80.9,33 81.7,31.5 83.1,29.5 86.9,24.7 88.4,23.2 89.4,22.6 90.4,22.3 92.4,22.2 94.9,22.5 96.9,23.3 97.9,24.1 99,25.5 101.2,30.5 102.3,32.5 103.9,34.5 106.4,37.1 108.9,39.2 110.4,40 111.9,40.1 113.9,39.7 115.9,38.7 117.9,37.3 125,30.5 126.3,29 127.3,27 128.3,21.5 128.9,19.5 129.9,17.5 130.9,16.3 131.9,15.5 133.9,14.9 139.9,14.6 141.9,14.2 143.9,13.3 146,11.5 147,10 147.8,7.5 148.1,4.5ZM48.6,17.5 51.1,17.5 52.4,18 53.4,18.5 54.6,20 54.9,21.1 55,22.5 54.9,23.5 54.4,25 53.8,26 52.9,27 51.4,28 50.4,28.4 48,28.8 46.4,28.5 44.5,27.5 43.2,26 42.8,25 42.6,24 42.8,23 43.2,22 44.8,20 47,18.2ZM29.7,48.1 31.5,47.7 33,47.7 36,48.1 38.5,48.7 40.5,49.6 44.2,51.6 45.6,52.6 46.8,54.1 47.3,55.6 46.9,57.1 46.3,58.1 43,62.1 42,64.1 40.5,68 39.5,68.9 38.5,69.1 35.2,68.6 32,68.5 31,68.1 30.3,67.1 29.1,64.1 27.9,62.1 26,60 22.4,57.1 21.3,55.6 21.1,54.6 21.3,53.6 21.8,52.6 22.8,51.6 25.1,50.1Z"/>
<path fill="#fc5a1e" fill-rule="evenodd" d="M20.9,0 38.7,0 38.6,3.5 38.2,5 37.7,6 36.4,7.5 32.2,11 30.9,12.5 30.4,14 29.7,18.5 28.9,20.5 27.3,22 25,22.8 23.5,23 21.5,22.7 19.5,22 18.5,21.5 17,20.3 16,19 15.5,18 15.1,16.5 15,14.5 15.5,12.5 16.5,10.4 19.6,5.5 20.3,3.5ZM63,0 80.2,0 82.6,10 82.6,12.5 82.4,13.5 81.8,14.5 80.5,15.5 79,16 76.9,16.3 74.4,16.3 72.4,16 68.6,15 65.9,14 64.4,13.1 62.9,11.4 62.4,10 62.1,8.5 62.2,4.5ZM151.2,0 181.8,0 181,3.5 179.8,7.1 178.3,10.3 176.3,13.1 174.3,14.7 171.4,16 168.3,16.9 165.3,17.2 162.8,16.9 159.8,15.6 156.3,13.3 153.7,11 152.4,9 151.7,7 151.2,4ZM91.3,25.5 92.4,25.5 93.9,25.8 95.4,26.5 96.4,27.3 97.7,29 100.4,33.5 105.1,38.5 108.4,43.3 109.4,43.9 110.4,43.9 111.4,43.6 116.4,41.5 118.4,40.3 122.8,36.5 124.9,35.2 126.9,34.3 131.4,32.9 138.4,29 139.9,28.3 141.4,27.9 142.9,27.9 144.4,28.5 149.8,32 150.9,33 151.5,34 151.8,35 151.7,36 151.1,38 150,40.5 148.4,43.5 146.9,45.5 144.9,47.5 141.4,50 137.7,53.1 135.4,54.6 133.2,55.6 126.9,57.3 121.5,59.1 118.9,59.6 116.9,59.5 115.2,59.1 113.4,58.1 111.9,56.8 110.4,55.1 107.4,49.6 106.9,49.2 105.9,48.8 99.9,49.7 97.9,50.2 95.9,51.2 91.3,54.1 88.9,55.1 87.4,55.3 85.4,55.3 81.8,54.6 80.4,53.9 79.3,53.1 78.7,52.1 78.5,50.6 78.9,49.1 80.7,45.1 81.4,43.1 81.7,40 81.9,35.5 82.3,33.5 83,32 83.9,30.7 86.4,28 88.9,26.2ZM31.2,49.6 33,49.3 34.5,49.3 36.4,49.6 38,50.1 42.6,52.6 43.7,53.6 44.4,54.6 44.6,56.1 44.4,57.1 43.9,58.1 39.6,64.1 38.5,65 37,65.4 35.5,65.4 33.6,65.1 32.5,64.6 31.5,63.7 26.9,58.6 25.6,56.6 25.2,55.6 25.1,54.6 25.3,53.6 25.9,52.6 27.8,51.1 29.8,50.1Z"/>
<path fill="#fa0f14" fill-rule="evenodd" d="M88.9,29 90.4,28.7 91.4,28.6 93.4,29.2 95.1,30.5 95.8,31.5 96.4,32.8 96.7,34 96.6,35.5 94.8,41.5 94.8,47.1 94.3,48.6 93.4,50.1 92,51.6 90.1,53.1 88.9,53.7 87.4,54.1 85.9,54.2 84.2,54.1 82.4,53.5 80.9,52.5 80.2,51.1 80.1,49.6 80.5,48.1 82.2,44.1 83.4,36 83.9,34 84.7,32.5 85.9,31 87.4,29.8Z"/>
</g>
<path d="M5.6,2.7L2.1,13.1" stroke="#c8c8c8" stroke-width="0.5" fill="none"/>
<path d="M5.6,2.7L9.4,13.1" stroke="#333" stroke-width="0.6" fill="none"/>
<path d="M2.1,13.3Q5.5,11.6 9.4,13.1" stroke="#222" stroke-width="0.8" fill="none"/>
<text x="6" y="18.2" text-anchor="middle" font-size="4.6" font-weight="bold" fill="#222">N</text>
<text class="lt" x="211.2" y="12.6" textLength="34.9" lengthAdjust="spacingAndGlyphs">pH (IDW, power 4)</text>
<rect x="215.2" y="16.9" width="12" height="5.2" fill="#138fce"/>
<text class="l" x="229.3" y="21" textLength="17.2" lengthAdjust="spacingAndGlyphs">7.1 – 7.6</text>
<rect x="215.2" y="25.1" width="12" height="5.2" fill="#3fa3b7"/>
<text class="l" x="229.3" y="29.2" textLength="13.0" lengthAdjust="spacingAndGlyphs">7.6 – 8</text>
<rect x="215.2" y="33.3" width="12" height="5.2" fill="#7dbda0"/>
<text class="l" x="229.3" y="37.4" textLength="13.0" lengthAdjust="spacingAndGlyphs">8 – 8.2</text>
<rect x="215.2" y="41.5" width="12" height="5.2" fill="#b2d27c"/>
<text class="l" x="229.3" y="45.6" textLength="17.2" lengthAdjust="spacingAndGlyphs">8.2 – 8.4</text>
<rect x="215.2" y="49.7" width="12" height="5.2" fill="#e2ec62"/>
<text class="l" x="229.3" y="53.8" textLength="17.2" lengthAdjust="spacingAndGlyphs">8.4 – 8.5</text>
<rect x="215.2" y="57.9" width="12" height="5.2" fill="#ffe14a"/>
<text class="l" x="229.3" y="62" textLength="17.2" lengthAdjust="spacingAndGlyphs">8.5 – 8.6</text>
<rect x="215.2" y="66.1" width="12" height="5.2" fill="#fdb233"/>
<text class="l" x="229.3" y="70.2" textLength="17.2" lengthAdjust="spacingAndGlyphs">8.6 – 8.7</text>
<rect x="215.2" y="74.3" width="12" height="5.2" fill="#fd8a2b"/>
<text class="l" x="229.3" y="78.4" textLength="17.2" lengthAdjust="spacingAndGlyphs">8.7 – 8.7</text>
<rect x="215.2" y="82.5" width="12" height="5.2" fill="#fc5a1e"/>
<text class="l" x="229.3" y="86.6" textLength="17.2" lengthAdjust="spacingAndGlyphs">8.7 – 8.8</text>
<rect x="215.2" y="90.7" width="12" height="5.2" fill="#fa0f14"/>
<text class="l" x="229.3" y="94.8" textLength="17.2" lengthAdjust="spacingAndGlyphs">8.8 – 8.9</text>
<rect x="79.5" y="101.2" width="4.8" height="1.9" fill="#000"/>
<rect x="84.3" y="101.2" width="4.8" height="1.9" fill="#bdbdbd"/>
<rect x="89.2" y="101.2" width="4.8" height="1.9" fill="#000"/>
<rect x="94" y="101.2" width="4.8" height="1.9" fill="#bdbdbd"/>
<rect x="98.9" y="101.2" width="19.4" height="1.9" fill="#000"/>
<rect x="118.3" y="101.2" width="19.4" height="1.9" fill="#bdbdbd"/>
<rect x="137.7" y="101.2" width="19.4" height="1.9" fill="#000"/>
<text class="s" x="79.5" y="100.4" text-anchor="middle">0</text>
<text class="s" x="89.2" y="100.4" text-anchor="middle">0.05</text>
<text class="s" x="98.9" y="100.4" text-anchor="middle">0.1</text>
<text class="s" x="118.3" y="100.4" text-anchor="middle">0.2</text>
<text class="s" x="137.7" y="100.4" text-anchor="middle">0.3</text>
<text class="s" x="157.1" y="100.4" text-anchor="middle">0.4</text>
<text class="s" x="158.1" y="103">km</text>
</g>
<g transform="translate(12.40 143.70) scale(1.0040 1.0048)">
<text class="t" x="40.7" y="-2.5" textLength="19.2" lengthAdjust="spacingAndGlyphs">30°11'40"E</text>
<text class="t" x="38" y="109.6" textLength="19.2" lengthAdjust="spacingAndGlyphs">30°11'40"E</text>
<path class="k" d="M50.3,0v-1.6M47.6,104.1v1.6"/>
<text class="t" x="92.2" y="-2.5" textLength="19.2" lengthAdjust="spacingAndGlyphs">30°11'50"E</text>
<text class="t" x="89.3" y="109.6" textLength="19.2" lengthAdjust="spacingAndGlyphs">30°11'50"E</text>
<path class="k" d="M101.8,0v-1.6M98.9,104.1v1.6"/>
<text class="t" x="144.6" y="-2.5" textLength="17.0" lengthAdjust="spacingAndGlyphs">30°12'0"E</text>
<text class="t" x="141.8" y="109.6" textLength="17.0" lengthAdjust="spacingAndGlyphs">30°12'0"E</text>
<path class="k" d="M153.1,0v-1.6M150.3,104.1v1.6"/>
<text class="t" x="194.6" y="-2.5" textLength="18.8" lengthAdjust="spacingAndGlyphs">30°12'10"E</text>
<text class="t" x="192.4" y="109.6" textLength="18.8" lengthAdjust="spacingAndGlyphs">30°12'10"E</text>
<path class="k" d="M204,0v-1.6M201.8,104.1v1.6"/>
<text class="t" transform="translate(-2.6 42.1) rotate(-90)" x="-8.5" textLength="17.0" lengthAdjust="spacingAndGlyphs">30°22'0"N</text>
<path class="k" d="M0,42.1h-1.6"/>
<text class="t" transform="translate(-2.6 101.3) rotate(-90)" x="-9.5" textLength="19.0" lengthAdjust="spacingAndGlyphs">30°21'50"N</text>
<path class="k" d="M0,101.3h-1.6"/>
<text class="t" transform="translate(251.6 47.8) rotate(90)" x="-8.5" textLength="17.0" lengthAdjust="spacingAndGlyphs">30°22'0"N</text>
<path class="k" d="M249.4,47.8h1.6"/>
<rect x="0" y="0" width="249.4" height="104.1" fill="#fff" stroke="#555" stroke-width="0.9"/>
<g transform="translate(11.6 12.7)">
<rect x="0" y="0" width="197.8" height="84.6" fill="#138fce"/>
<path fill="#3fa3b7" fill-rule="evenodd" d="M0,0 197.8,0 197.8,84.6 109.1,84.6 109.2,81.6 109.8,76.6 109.7,73.6 109.2,69.6 108.1,66.1 106,62.6 104.7,61.1 103.5,60.1 100.8,58.6 99.1,58.1 97.4,57.9 94.9,58.2 93.9,58.6 92.2,59.6 90.8,61.1 89.9,63.6 88.7,70.6 88.6,72.6 89.1,74.6 91.2,81.6 91.9,84.6 0,84.6Z"/>
<path fill="#7dbda0" fill-rule="evenodd" d="M0,0 197.8,0 197.8,84.6 111.5,84.6 111.2,75.6 110.9,71.6 110.3,68.1 109.3,65.6 107,62.1 105.7,60.6 104.4,59.5 102.9,58.6 100.9,57.7 98.9,57.2 97.4,57 94.9,57.3 92.1,58.6 90.1,60.1 89.4,61.1 89,62.1 87.9,67.2 86.6,71.1 86.4,72.6 86.6,73.6 88.4,78.1 88.9,80.1 89.1,82.1 89,84.6 0,84.6 0,34.9 1.5,34.5 3.5,33.5 4.9,32.5 6.4,31 7.3,29.5 7.6,28.5 8,27 8.1,25 8,23 7.5,20.4 6.9,18.5 5.9,16.5 5,15.4 3.8,14.5 2,13.8 0,13.3Z"/>
<path fill="#b2d27c" fill-rule="evenodd" d="M12,0 197.8,0 197.8,84.6 112.8,84.6 112.5,77.1 111.9,70.1 111.2,67.1 110.3,65.1 107.3,61.1 105.8,59.6 104.4,58.6 100.9,57 98.9,56.5 96.9,56.3 95.4,56.5 93.9,57 89.4,59.2 87.9,59.8 86.4,59.8 81.9,59.2 78.9,59.6 76.8,60.6 75.4,61.8 74.4,63.3 73.8,65.1 73.2,70.1 72.1,75.6 71.9,79.6 72.3,84.6 0,84.6 0,42.9 5.5,45.1 8,45.8 9.5,46 11,45.8 13.5,45 15.5,43.5 17.5,40.7 19.9,35.5 21,32 21,31 20.7,30 19.4,28.5 17.7,27.5 12.5,25.2 11.4,24.5 10.3,23 9.3,20 8.3,16 8.2,13.5 8.7,12 10.5,8.4 11.5,5.8 12,3Z"/>
<path fill="#e2ec62" fill-rule="evenodd" d="M14,0 197.8,0 197.8,84.6 114.1,84.6 113.9,77.1 113.1,69.6 112.7,67.6 112.2,66.1 110.9,64.1 108.4,61.1 106.4,59.1 104.4,57.7 102.4,56.8 99.9,56.1 97.4,55.7 94.9,56 90.4,57.9 88.4,58.5 86.9,58.4 80.9,57.6 74.9,57.9 73.4,57.7 72.9,57.3 72.5,56.6 72,51.1 71,48.6 69.6,46.6 67.4,44 65.9,42.7 65.4,42.6 64.4,43.3 63.4,44.2 58.3,50.6 57.4,52.1 57.1,53.6 57.3,54.6 57.8,55.6 59.4,57.3 62.4,59.5 67,62.1 67.6,62.6 68.2,63.6 68.6,66.6 68.5,74.6 69.2,84.6 0,84.6 0,69.1 1.5,68.4 4,66.7 6.5,64.3 8,62.3 9,60.3 9.7,58.1 10.1,56.1 10.5,52.1 11,50.6 12.2,49.1 16.5,46.2 17.9,44.6 20.5,38 23.2,33 23.6,31.5 23.3,30 21.9,28.5 19.4,27 14,24.5 12.5,23.5 11.3,22 10.3,19.5 9.6,16.5 9.7,14 10.2,12.5 12.5,7.5 13.2,5.5 13.8,3ZM44,36.9 42.8,38 42,40.3 41.3,43.6 41.5,45.1 42.5,46.4 44.1,47.6 46.5,48.3 48.5,48.1 49.7,47.1 50.4,45.1 50.5,43.1 50,41 48.6,38.5 47.5,37.4 46.5,36.8 45.5,36.6ZM63.9,25.5 62.5,26.5 61.4,28 60.5,30 60.3,32 61.1,35 62.5,38 64.4,40.5 65.4,41.4 65.9,41.4 68.4,39.9 73.2,36 74.4,34.5 74.8,33.5 74.9,32.5 74.4,31.3 73.4,30 68.4,26.2 66.9,25.5 65.9,25.3 64.9,25.2Z"/>
<path fill="#ffe14a" fill-rule="evenodd" d="M15.4,0 197.8,0 197.8,84.6 115.9,84.6 116.1,77.6 115,69.1 114.7,67.6 114,66.1 112.8,64.6 108.4,59.9 106.4,58.1 104.9,57.1 102.9,56.3 99.9,55.4 97.9,55.1 95.4,55.2 89.9,57.4 87.9,57.7 76.9,56.3 75.4,55.7 74.8,55.1 74.2,53.1 74.1,50.1 74.6,48.6 77.4,45.4 78.6,43.1 78.9,40.5 78.5,38.5 77.7,36 77.6,34 77.9,32.5 78.5,31 80.9,27.5 82.1,25 82.3,24 82.2,23 81.9,22.4 81.2,21.5 79.5,20.5 78,20 75.9,19.7 73.9,19.6 71.1,20 63.9,22.1 62.9,22.7 61.9,23.5 60.9,24.8 58.4,28.8 56.9,30.3 55.4,31.1 51.4,32.8 48.5,33.7 46.5,33.7 43.5,33.3 36.5,31.1 31.5,30.2 26,28.8 21,26.8 14.5,23.6 12.6,22 11.5,20 10.7,17 10.7,14.5 11.3,12.5 14.5,5 15.1,2.5ZM119.4,7 115.4,8.7 107.9,12.7 106.9,13.5 106.1,14.5 105.6,15.5 105.4,17 105.8,18.5 106.4,19.5 107.4,20.5 108.7,21.5 115.9,25.2 117.9,25.9 119.4,26.1 120.4,25.9 121.4,25.4 122.4,24.4 123.4,22.7 124.9,18.4 125.4,16 125.6,13.5 125.5,12 125.1,10.5 124.4,9.2 123.4,8 122.4,7.2 121.4,6.8 120.4,6.8ZM29.5,44.6 30.5,44.2 32,44.2 39,46 43.5,49.1 50.3,51.6 51.9,52.9 53.1,54.6 53.7,56.1 53.8,57.1 52.5,61.1 52.4,64.1 53.1,67.6 53.9,69.8 55,72.1 55.1,73.1 54.2,74.6 51.4,77.5 50.3,79.1 49.4,81.6 49,84.6 19.9,84.6 19.8,76.1 19.2,73.6 17,69.5 15,66.8 12.6,64.1 11.8,62.6 11.7,61.6 11.8,60.1 12.9,54.1 13.5,52.3 14.3,51.1 15.3,50.1 17,49 20,47.7 25.5,46.4Z"/>
<path fill="#fdb233" fill-rule="evenodd" d="M16.6,0 43,0 42.9,3 43.1,5 43.7,7 44.7,8.5 46.6,10.5 48.5,11.8 50.4,12.5 52.9,12.8 54.9,12.5 55.9,12 56.9,11 57.4,9.9 58.5,6 58.8,3 58.8,0 86.9,0 85.9,4.5 86,8 86.9,12.2 87.9,14.9 88.8,16.5 89.8,17.5 90.9,18.1 92.4,18.6 97.4,19.3 98.9,19.9 99.9,20.6 101,22 101.7,23.5 102,25 102.6,30 103,31.5 103.9,33.2 105.1,34.5 107.4,36 109.9,37 111.9,37.2 113.9,36.9 116,35.5 117.4,34.2 119.5,31.5 122.4,28.7 123.3,27.5 124.7,24.5 127.9,14.3 128.5,13 129.4,12 130.4,11.5 131.4,11.3 136.9,11 139.4,10.6 141.4,9.9 143.4,8.5 144.4,7 145.2,5 145.5,3 145.5,0 187.3,0 184.8,4.7 183.7,7.5 182.8,11 182,17 181.3,18.7 180.6,19.5 179.8,20.1 174.4,22.5 172.1,24 170.3,25.8 169.2,28 168.7,30 168.9,32.5 169.8,35.5 172.5,42 172.6,43.6 172.2,44.6 171.1,46.1 165.6,51.6 160.3,58.1 158.8,58.9 157.3,59.1 150.3,57.8 148.4,57.7 146.9,57.9 145.4,58.3 143.4,59.1 138.4,62.4 136.4,63.2 134.4,63.3 129.9,62.7 126.9,62.6 123.9,63.1 118.9,64.4 116.9,64.6 115.4,64.4 113.4,63.3 111.4,61.6 107.7,58.1 105.9,56.8 103.9,55.9 100.4,54.9 97.9,54.4 95.9,54.4 94.4,54.8 89.9,56.7 87.4,57 82.9,56.4 78.4,55.6 76.9,55 76,54.1 75.5,52.6 75.7,50.6 76.4,49.1 78.9,45.4 79.5,44.1 80,42.6 80.1,39.5 79.4,35 79.6,33 80.6,31 84.5,25.5 85.5,23 85.6,22 85.4,21 84.9,20.4 83.9,19.8 81.9,19.2 79.4,18.7 73.4,18.3 69.4,18.6 62.9,19.7 61.9,20.1 60.9,21 58,26.5 56.2,28.5 54.4,29.7 51.4,31 49.5,31.7 47.5,32.1 45.5,32 43.5,31.4 41.5,30.5 37.5,28.2 35.5,27.5 33,27.1 27.5,27.2 24,26.7 19.5,25.2 15.2,23 13.5,21.6 12.5,20 11.7,17.5 11.5,15.5 11.8,14 12.2,12.5 15.8,4.5 16.3,2.5ZM30.3,46.1 31.5,45.8 33,45.9 37.5,46.8 39,47.3 43,49.8 48.5,52.5 49.7,53.6 50.5,55.1 50.7,56.6 49.9,60.6 51.1,66.1 51.3,68.1 51.2,70.1 50.4,72.2 48.5,75.4 47.5,77.6 46.2,81.6 45.5,84.6 23.7,84.6 23.2,77.1 22.7,74.6 22,73.1 18,67.8 16,64 15.3,62.1 14.9,60.1 14.8,58.1 15,56 15.3,54.6 15.9,53.1 16.7,52.1 18,51 20,50 25.8,48.1Z"/>
<path fill="#fd8a2b" fill-rule="evenodd" d="M17.9,0 41.1,0 40.9,4.5 40.5,6.6 39.5,8 35,11.5 33.5,13.3 33,14.5 32.8,16 32.9,20.5 32.8,22 32,23.5 30.6,24.5 28.5,25.3 26.5,25.6 24.5,25.6 22,25.1 19,24 16.2,22.5 14.5,21.1 13.5,19.7 12.7,17 12.6,15.5 12.8,14 13.6,11.5 17,4.5 17.6,2.5ZM60.7,0 83.7,0 83.8,5 85.1,14 85,15.5 84.6,16.5 83.9,17 82.4,17.5 77.4,17.6 64.4,17.1 61.9,16.7 60.4,16 59.6,15 59.4,13ZM148.3,0 184.4,0 179.8,13.2 178.4,16 177.5,17 176.3,17.8 170.3,20.8 167.8,22.3 166,24 164.8,26 163.9,29 163.8,30.5 163.9,32 164.5,34 167.3,40 167.7,41.5 167.6,43.1 166.9,45.1 165.3,47.4 163.3,49.7 160.8,51.9 158.3,53.4 156.3,53.9 154.8,53.9 149.8,53.4 146.9,53.8 143.4,55.1 137.9,58.4 135.4,59.4 133.4,59.8 126.9,60.3 119.4,62.2 116.9,62.6 114.9,62.3 112.9,61.3 111.4,60.1 107.9,56.8 106.4,55.9 103.9,54.9 99.4,53.8 97.4,53.5 95.4,53.7 89.9,56.1 87.4,56.4 84.1,56.1 79.9,55.2 78.4,54.6 77.2,53.6 76.8,52.1 76.9,50.6 77.6,49.1 79.9,45.1 80.7,42.6 80.9,39.5 80.6,35 80.9,33 81.6,31.5 82.7,30 86.9,24.8 88.4,23.2 89.9,22.4 91.9,22.1 94.4,22.4 96.4,23.1 97.6,24 98.4,25.2 99.2,27 101,32.5 101.7,34 102.9,35.4 104.4,36.4 106.3,37.5 110.4,39.4 112.9,39.7 114.9,39.3 116.4,38.5 118.4,37 124.9,30.5 126.1,29 126.9,27 127.7,22 128.4,19.6 129.4,17.2 130.7,15.5 131.9,14.9 133.4,14.5 135.9,14.3 140.4,14.3 141.9,14.1 144.4,13.1 146.4,11.5 147.4,10 147.9,8 148.2,5ZM48.2,16 49.9,15.7 51.9,15.9 54.4,16.4 56.2,17 56.9,17.7 57.3,18.5 57.5,21 57.1,23 56.4,25 55.5,26.5 54.5,27.5 53.1,28.5 50.9,29.5 49,30.1 47,30.2 45.7,30 44.3,29.5 42.1,28 41.1,27 40.5,26 40.3,24.5 40.9,23 43,20.5 46.5,17.1ZM31,47.1 32.5,46.9 34,47 36.9,47.6 38.5,48.1 42.5,50.6 47,53 48,54.1 48.5,55.1 48.7,56.6 48.2,58.6 47,60.6 44,64.4 43,66.6 42.4,70.1 43.1,74.6 43.1,76.6 42.5,78.1 42,78.6 41,79.2 38.5,79.4 35,78.9 31.5,78.1 29.5,77.3 28.5,76.6 27.7,75.6 27.5,74.6 28,70.6 28,69.1 27.5,66.6 27,65.1 26,63.6 25,62.6 20,58.4 19.2,57.6 18.6,56.6 18.4,55.6 18.6,54.1 19.2,53.1 20.2,52.1 22.5,50.7Z"/>
<path fill="#fc5a1e" fill-rule="evenodd" d="M19.8,0 39.2,0 39.1,3.5 38.5,5.5 36.8,7.5 32.5,11 31.1,12.5 30.6,14 30.2,19 29.7,21 28.7,22.5 27,23.5 25.5,23.9 23.5,23.9 21.5,23.6 19.9,23 17.8,22 16.4,21 15.1,19.5 14.4,18 14,15.5 14.5,13 15.5,10.6 18.8,5 19.4,3ZM62.5,0 81,0 83.1,11.5 83.1,13.5 82.4,15 81.4,15.7 79.9,16.2 77.4,16.5 74.9,16.5 70.9,16 66.4,15.1 64.6,14.5 63.4,13.8 62.6,13 62.1,12 61.6,9.5 61.8,5ZM150.6,0 182.2,0 181.3,3.6 179.8,7.9 178.3,11.2 176.4,14 174.6,15.5 172.3,16.6 168.3,17.9 165.8,18.3 163.3,17.9 160.8,16.7 154.8,12.7 152.5,10.5 151.4,8.5 150.9,6.5 150.6,3.5ZM91.3,24.5 92.9,24.5 94.4,24.9 95.4,25.4 96.4,26.3 97.9,28.7 100.4,34.8 101.9,36.7 110.4,41.3 111.9,41.8 112.9,41.9 114.4,41.6 117.4,40.4 119.2,39 123,35.5 125.4,34 127.4,33.2 131.9,32.2 139.4,28.3 141.4,27.6 142.4,27.6 143.9,28.1 150.7,32.5 152,34 152.2,35 152.1,36 151.2,38.5 148.8,43.2 146.9,46.7 145.4,48.6 143.2,50.6 138,54.6 135.4,56.1 133.4,56.8 127.4,58 119.9,60.2 116.9,60.6 114.9,60.3 113.4,59.6 111.4,58.1 108.9,55.5 107.4,54.5 105.9,54 98.4,52.3 96.9,52.2 95.4,52.5 90.4,55.1 88.4,55.6 84.9,55.5 80.6,54.6 79.4,54 78.4,53.1 78,52.1 78,51.1 78.4,49.6 80.7,45.1 81.2,43.6 81.7,40.5 81.6,35 81.9,33.5 82.6,32 83.4,30.8 86.4,27.4 88.9,25.4 89.9,24.9ZM30.7,48.6 32.5,48.1 34,48.1 36.5,48.5 38,49 41.5,51.4 45.1,53.6 46.5,55.1 46.7,56.1 46.7,57.1 46,59.1 42.1,64.1 40.3,67.6 39.9,68.1 39,68.7 37.5,69 34,69 32,68.9 31,68.5 30,67.4 28.1,63.6 23.8,59.1 22.1,56.6 21.8,55.6 21.9,54.6 22.8,53.1 24.9,51.6Z"/>
<path fill="#fa0f14" fill-rule="evenodd" d="M91,27 92.4,27 93.4,27.3 94.4,27.8 95.4,28.7 96.4,30 97.2,31.5 98.6,35.5 99,37.5 98.9,39 96.9,44.1 96.2,48.1 95.5,49.6 94.1,51.1 91.7,53.1 90,54.1 88.4,54.6 86.4,54.8 84.3,54.6 82.3,54.1 80.9,53.5 79.9,52.6 79.4,51.6 79.4,50.6 79.9,48.7 81.7,45.1 82.2,43.6 82.8,39.5 82.9,35.5 83.4,33.5 84.9,31 86.9,29 88.9,27.7Z"/>
</g>
<path d="M5.6,2.7L2.1,13.1" stroke="#c8c8c8" stroke-width="0.5" fill="none"/>
<path d="M5.6,2.7L9.4,13.1" stroke="#333" stroke-width="0.6" fill="none"/>
<path d="M2.1,13.3Q5.5,11.6 9.4,13.1" stroke="#222" stroke-width="0.8" fill="none"/>
<text x="6" y="18.2" text-anchor="middle" font-size="4.6" font-weight="bold" fill="#222">N</text>
<text class="lt" x="211.2" y="12.2" textLength="34.9" lengthAdjust="spacingAndGlyphs">pH (IDW, power 5)</text>
<rect x="215.2" y="16.9" width="12" height="5.2" fill="#138fce"/>
<text class="l" x="229.3" y="21" textLength="17.2" lengthAdjust="spacingAndGlyphs">7.1 – 7.6</text>
<rect x="215.2" y="25.1" width="12" height="5.2" fill="#3fa3b7"/>
<text class="l" x="229.3" y="29.2" textLength="13.0" lengthAdjust="spacingAndGlyphs">7.6 – 8</text>
<rect x="215.2" y="33.3" width="12" height="5.2" fill="#7dbda0"/>
<text class="l" x="229.3" y="37.4" textLength="13.0" lengthAdjust="spacingAndGlyphs">8 – 8.2</text>
<rect x="215.2" y="41.5" width="12" height="5.2" fill="#b2d27c"/>
<text class="l" x="229.3" y="45.6" textLength="17.2" lengthAdjust="spacingAndGlyphs">8.2 – 8.4</text>
<rect x="215.2" y="49.7" width="12" height="5.2" fill="#e2ec62"/>
<text class="l" x="229.3" y="53.8" textLength="17.2" lengthAdjust="spacingAndGlyphs">8.4 – 8.5</text>
<rect x="215.2" y="57.9" width="12" height="5.2" fill="#ffe14a"/>
<text class="l" x="229.3" y="62" textLength="17.2" lengthAdjust="spacingAndGlyphs">8.5 – 8.6</text>
<rect x="215.2" y="66.1" width="12" height="5.2" fill="#fdb233"/>
<text class="l" x="229.3" y="70.2" textLength="17.2" lengthAdjust="spacingAndGlyphs">8.6 – 8.7</text>
<rect x="215.2" y="74.3" width="12" height="5.2" fill="#fd8a2b"/>
<text class="l" x="229.3" y="78.4" textLength="17.2" lengthAdjust="spacingAndGlyphs">8.7 – 8.7</text>
<rect x="215.2" y="82.5" width="12" height="5.2" fill="#fc5a1e"/>
<text class="l" x="229.3" y="86.6" textLength="17.2" lengthAdjust="spacingAndGlyphs">8.7 – 8.8</text>
<rect x="215.2" y="90.7" width="12" height="5.2" fill="#fa0f14"/>
<text class="l" x="229.3" y="94.8" textLength="17.2" lengthAdjust="spacingAndGlyphs">8.8 – 8.9</text>
<rect x="79.5" y="101.2" width="4.8" height="1.9" fill="#000"/>
<rect x="84.3" y="101.2" width="4.8" height="1.9" fill="#bdbdbd"/>
<rect x="89.2" y="101.2" width="4.8" height="1.9" fill="#000"/>
<rect x="94" y="101.2" width="4.8" height="1.9" fill="#bdbdbd"/>
<rect x="98.9" y="101.2" width="19.4" height="1.9" fill="#000"/>
<rect x="118.3" y="101.2" width="19.4" height="1.9" fill="#bdbdbd"/>
<rect x="137.7" y="101.2" width="19.4" height="1.9" fill="#000"/>
<text class="s" x="79.5" y="100.4" text-anchor="middle">0</text>
<text class="s" x="89.2" y="100.4" text-anchor="middle">0.05</text>
<text class="s" x="98.9" y="100.4" text-anchor="middle">0.1</text>
<text class="s" x="118.3" y="100.4" text-anchor="middle">0.2</text>
<text class="s" x="137.7" y="100.4" text-anchor="middle">0.3</text>
<text class="s" x="157.1" y="100.4" text-anchor="middle">0.4</text>
<text class="s" x="158.1" y="103">km</text>
</g>
<g transform="translate(289.30 141.60) scale(1.0072 1.0106)">
<text class="t" x="40.7" y="-2.5" textLength="19.2" lengthAdjust="spacingAndGlyphs">30°11'40"E</text>
<text class="t" x="38" y="109.6" textLength="19.2" lengthAdjust="spacingAndGlyphs">30°11'40"E</text>
<path class="k" d="M50.3,0v-1.6M47.6,104.1v1.6"/>
<text class="t" x="92.2" y="-2.5" textLength="19.2" lengthAdjust="spacingAndGlyphs">30°11'50"E</text>
<text class="t" x="89.3" y="109.6" textLength="19.2" lengthAdjust="spacingAndGlyphs">30°11'50"E</text>
<path class="k" d="M101.8,0v-1.6M98.9,104.1v1.6"/>
<text class="t" x="144.6" y="-2.5" textLength="17.0" lengthAdjust="spacingAndGlyphs">30°12'0"E</text>
<text class="t" x="141.8" y="109.6" textLength="17.0" lengthAdjust="spacingAndGlyphs">30°12'0"E</text>
<path class="k" d="M153.1,0v-1.6M150.3,104.1v1.6"/>
<text class="t" x="194.6" y="-2.5" textLength="18.8" lengthAdjust="spacingAndGlyphs">30°12'10"E</text>
<text class="t" x="192.4" y="109.6" textLength="18.8" lengthAdjust="spacingAndGlyphs">30°12'10"E</text>
<path class="k" d="M204,0v-1.6M201.8,104.1v1.6"/>
<text class="t" transform="translate(-2.6 42.1) rotate(-90)" x="-8.5" textLength="17.0" lengthAdjust="spacingAndGlyphs">30°22'0"N</text>
<path class="k" d="M0,42.1h-1.6"/>
<text class="t" transform="translate(-2.6 101.3) rotate(-90)" x="-9.5" textLength="19.0" lengthAdjust="spacingAndGlyphs">30°21'50"N</text>
<path class="k" d="M0,101.3h-1.6"/>
<text class="t" transform="translate(251.6 47.8) rotate(90)" x="-8.5" textLength="17.0" lengthAdjust="spacingAndGlyphs">30°22'0"N</text>
<path class="k" d="M249.4,47.8h1.6"/>
<rect x="0" y="0" width="249.4" height="104.1" fill="#fff" stroke="#555" stroke-width="0.9"/>
<g transform="translate(11.6 12.7)">
<rect x="0" y="0" width="197.8" height="84.6" fill="#b2d27c"/>
<path fill="#e2ec62" fill-rule="evenodd" d="M0,0 197.8,0 197.8,84.6 99.9,84.6 99.4,81.6 98.2,78.6 96.4,76.3 95.4,75.6 94.4,75.1 92.4,74.8 69.9,73.5 65.4,72.9 43.5,67.5 30.5,63.2 28.5,62.1 27,60.8 20.5,53.3 19.5,51.6 18.9,50.1 17.1,41.5 16.3,39.5 14.9,37 11,30.5 9,27.8 3,21.3 1.5,19.9 0,18.9Z"/>
<path fill="#ffe14a" fill-rule="evenodd" d="M16.5,0 197.8,0 197.8,84.6 138,84.6 136,82.1 128.4,75.3 119.5,66.6 113.4,61.6 110.9,59.8 107.4,58.2 91.9,53.7 88.1,52.1 80.9,47.8 78.4,46.1 76.4,44.1 72.9,39.3 70.9,37 68.4,34.9 62.9,30.8 61.4,30 59.4,29.2 49.9,26.8 47,25.8 37,20.9 34,19.2 31.4,17 23.9,9.5 18.4,3 17.3,1.5Z"/>
<path fill="#fdb233" fill-rule="evenodd" d="M61.8,0 197.8,0 197.8,77.1 196.3,76.6 193.8,75.4 171.3,63.1 156.3,55.4 152.3,53.8 136.2,48.6 131.8,46.6 125.2,43.1 123.9,42 122.4,40.2 118.5,33.5 117.4,30.5 116.3,24.5 115.3,22 113.3,19.5 110.1,17 108.4,16.2 105.7,15.5 98.9,14.2 87.9,12.5 83.9,11.5 73.9,7.4 70.4,5.7 64.2,2Z"/>
<path fill="#fd8a2b" fill-rule="evenodd" d="M127.3,0 197.8,0 197.8,45.4 195.3,44.4 187.8,40.7 174.3,35 170.3,33.6 159.3,30.5 156.8,29.6 153.8,28.1 148.4,25 146.4,23.5 145.1,22 140.2,14.5 134.4,6.7 132.4,4.6 128.6,1.5Z"/>
<path fill="#fc5a1e" fill-rule="evenodd" d="M144.9,0 197.8,0 197.8,26.5 195.3,25.5 188.3,22.1 177.3,17.5 173.3,16.2 163.8,13.8 160.8,12.6 154.3,8.5 150.8,6 146.9,2.5Z"/>
<path fill="#fa0f14" fill-rule="evenodd" d="M188.9,0 197.8,0 197.8,3.9 195.8,3.4 192.8,2.2 190.4,1Z"/>
</g>
<path d="M5.6,2.7L2.1,13.1" stroke="#c8c8c8" stroke-width="0.5" fill="none"/>
<path d="M5.6,2.7L9.4,13.1" stroke="#333" stroke-width="0.6" fill="none"/>
<path d="M2.1,13.3Q5.5,11.6 9.4,13.1" stroke="#222" stroke-width="0.8" fill="none"/>
<text x="6" y="18.2" text-anchor="middle" font-size="4.6" font-weight="bold" fill="#222">N</text>
<text class="lt" x="211.2" y="12.6" textLength="34.9" lengthAdjust="spacingAndGlyphs">pH (Kriging, First)</text>
<rect x="215.2" y="16.9" width="12" height="5.2" fill="#138fce"/>
<text class="l" x="229.3" y="21" textLength="17.2" lengthAdjust="spacingAndGlyphs">7.1 – 7.6</text>
<rect x="215.2" y="25.1" width="12" height="5.2" fill="#3fa3b7"/>
<text class="l" x="229.3" y="29.2" textLength="13.0" lengthAdjust="spacingAndGlyphs">7.6 – 8</text>
<rect x="215.2" y="33.3" width="12" height="5.2" fill="#7dbda0"/>
<text class="l" x="229.3" y="37.4" textLength="13.0" lengthAdjust="spacingAndGlyphs">8 – 8.2</text>
<rect x="215.2" y="41.5" width="12" height="5.2" fill="#b2d27c"/>
<text class="l" x="229.3" y="45.6" textLength="17.2" lengthAdjust="spacingAndGlyphs">8.2 – 8.4</text>
<rect x="215.2" y="49.7" width="12" height="5.2" fill="#e2ec62"/>
<text class="l" x="229.3" y="53.8" textLength="17.2" lengthAdjust="spacingAndGlyphs">8.4 – 8.5</text>
<rect x="215.2" y="57.9" width="12" height="5.2" fill="#ffe14a"/>
<text class="l" x="229.3" y="62" textLength="17.2" lengthAdjust="spacingAndGlyphs">8.5 – 8.6</text>
<rect x="215.2" y="66.1" width="12" height="5.2" fill="#fdb233"/>
<text class="l" x="229.3" y="70.2" textLength="17.2" lengthAdjust="spacingAndGlyphs">8.6 – 8.7</text>
<rect x="215.2" y="74.3" width="12" height="5.2" fill="#fd8a2b"/>
<text class="l" x="229.3" y="78.4" textLength="17.2" lengthAdjust="spacingAndGlyphs">8.7 – 8.7</text>
<rect x="215.2" y="82.5" width="12" height="5.2" fill="#fc5a1e"/>
<text class="l" x="229.3" y="86.6" textLength="17.2" lengthAdjust="spacingAndGlyphs">8.7 – 8.8</text>
<rect x="215.2" y="90.7" width="12" height="5.2" fill="#fa0f14"/>
<text class="l" x="229.3" y="94.8" textLength="17.2" lengthAdjust="spacingAndGlyphs">8.8 – 8.9</text>
<rect x="79.5" y="101.2" width="4.8" height="1.9" fill="#000"/>
<rect x="84.3" y="101.2" width="4.8" height="1.9" fill="#bdbdbd"/>
<rect x="89.2" y="101.2" width="4.8" height="1.9" fill="#000"/>
<rect x="94" y="101.2" width="4.8" height="1.9" fill="#bdbdbd"/>
<rect x="98.9" y="101.2" width="19.4" height="1.9" fill="#000"/>
<rect x="118.3" y="101.2" width="19.4" height="1.9" fill="#bdbdbd"/>
<rect x="137.7" y="101.2" width="19.4" height="1.9" fill="#000"/>
<text class="s" x="79.5" y="100.4" text-anchor="middle">0</text>
<text class="s" x="89.2" y="100.4" text-anchor="middle">0.05</text>
<text class="s" x="98.9" y="100.4" text-anchor="middle">0.1</text>
<text class="s" x="118.3" y="100.4" text-anchor="middle">0.2</text>
<text class="s" x="137.7" y="100.4" text-anchor="middle">0.3</text>
<text class="s" x="157.1" y="100.4" text-anchor="middle">0.4</text>
<text class="s" x="158.1" y="103">km</text>
</g>
<g transform="translate(12.40 273.90) scale(0.9960 0.9923)">
<text class="t" x="40.7" y="-2.5" textLength="19.2" lengthAdjust="spacingAndGlyphs">30°11'40"E</text>
<text class="t" x="38" y="109.6" textLength="19.2" lengthAdjust="spacingAndGlyphs">30°11'40"E</text>
<path class="k" d="M50.3,0v-1.6M47.6,104.1v1.6"/>
<text class="t" x="92.2" y="-2.5" textLength="19.2" lengthAdjust="spacingAndGlyphs">30°11'50"E</text>
<text class="t" x="89.3" y="109.6" textLength="19.2" lengthAdjust="spacingAndGlyphs">30°11'50"E</text>
<path class="k" d="M101.8,0v-1.6M98.9,104.1v1.6"/>
<text class="t" x="144.6" y="-2.5" textLength="17.0" lengthAdjust="spacingAndGlyphs">30°12'0"E</text>
<text class="t" x="141.8" y="109.6" textLength="17.0" lengthAdjust="spacingAndGlyphs">30°12'0"E</text>
<path class="k" d="M153.1,0v-1.6M150.3,104.1v1.6"/>
<text class="t" x="194.6" y="-2.5" textLength="18.8" lengthAdjust="spacingAndGlyphs">30°12'10"E</text>
<text class="t" x="192.4" y="109.6" textLength="18.8" lengthAdjust="spacingAndGlyphs">30°12'10"E</text>
<path class="k" d="M204,0v-1.6M201.8,104.1v1.6"/>
<text class="t" transform="translate(-2.6 42.1) rotate(-90)" x="-8.5" textLength="17.0" lengthAdjust="spacingAndGlyphs">30°22'0"N</text>
<path class="k" d="M0,42.1h-1.6"/>
<text class="t" transform="translate(-2.6 101.3) rotate(-90)" x="-9.5" textLength="19.0" lengthAdjust="spacingAndGlyphs">30°21'50"N</text>
<path class="k" d="M0,101.3h-1.6"/>
<text class="t" transform="translate(251.6 47.8) rotate(90)" x="-8.5" textLength="17.0" lengthAdjust="spacingAndGlyphs">30°22'0"N</text>
<path class="k" d="M249.4,47.8h1.6"/>
<rect x="0" y="0" width="249.4" height="104.1" fill="#fff" stroke="#555" stroke-width="0.9"/>
<g transform="translate(11.6 12.7)">
<rect x="0" y="0" width="197.8" height="84.6" fill="#138fce"/>
<path fill="#3fa3b7" fill-rule="evenodd" d="M0,0 197.8,0 197.8,84.6 24.7,84.6 23.3,83.6 20.6,82.1 12.5,78.3 2.5,73 0,72Z"/>
<path fill="#7dbda0" fill-rule="evenodd" d="M0,0 197.8,0 197.8,84.6 56.8,84.6 54.2,82.6 45,77.3 5.5,55.2 2,53.4 0,52.6Z"/>
<path fill="#b2d27c" fill-rule="evenodd" d="M0,0 197.8,0 197.8,84.6 101.2,84.6 100.3,83.6 98.7,82.6 88.9,78.8 67.9,69.4 41.5,56.2 22.5,45.3 11,37.6 2.5,30.8 0,29.3Z"/>
<path fill="#e2ec62" fill-rule="evenodd" d="M9,0 197.8,0 197.8,84.6 148.1,84.6 146,83.6 141.7,82.1 118.4,75.4 91.9,66.9 87.1,65.1 66.9,56.9 43.3,45.1 29.1,35 25.6,32 17.4,23 15.9,21 14.5,18.5 11.2,12 10.3,9.5 9.7,6.5Z"/>
<path fill="#ffe14a" fill-rule="evenodd" d="M31.6,0 197.8,0 197.8,79.1 165.8,73 120.9,61.8 115.9,60.2 79.4,46.5 75.4,44.8 60.6,36.5 57.4,34.5 54.3,32 44,22.5 41.1,19 35.1,10 33.4,6Z"/>
<path fill="#fdb233" fill-rule="evenodd" d="M65.9,0.5 66.1,0 168.7,0 172.5,2 181.8,5.7 190.8,10.2 195.8,13.3 197.8,14.3 197.8,61.8 166.3,58.9 142.9,54.7 118.9,47.9 101.9,41 87.5,35.5 77,29.5 73.9,27.5 71.4,25 66.6,19.5 65.1,17.5 64.3,16 63.8,14 63.4,11 63.3,8.5 63.7,6Z"/>
<path fill="#fd8a2b" fill-rule="evenodd" d="M125.8,6.5 129.9,6.4 133.4,6.6 151.3,9.2 155.3,10.1 159.3,11.7 174.8,18.6 194.3,28.6 197.8,30 197.8,53.1 188.3,53 166.8,52 145.9,48.9 140.9,47.8 121.9,42.2 117.9,40.5 97.2,28.5 94.7,26.5 93,24 92.1,22 91.9,20.5 92.2,19 93.3,17.5 95.3,16 101.4,12.8 107.9,8.7 109.9,7.8 112.4,7.3Z"/>
<path fill="#fc5a1e" fill-rule="evenodd" d="M145.4,19.5 148.8,19.7 158.8,21.3 161.3,22 163.4,23 168.2,26.5 169.8,28 170.7,29 171.8,31 172.4,33 172.4,34.5 172,35.5 170.6,37 168.1,38.5 165.3,39.5 161.3,40.4 159.3,40.6 156.8,40.6 146.9,39.7 143.4,39 139.7,37.5 132.4,33.5 131.2,32.5 129.8,31 128.8,29 128.6,28 128.8,27 130.1,25 131.9,23.3 133.4,22.4 135.8,21.5 142.4,19.9Z"/>
</g>
<path d="M5.6,2.7L2.1,13.1" stroke="#c8c8c8" stroke-width="0.5" fill="none"/>
<path d="M5.6,2.7L9.4,13.1" stroke="#333" stroke-width="0.6" fill="none"/>
<path d="M2.1,13.3Q5.5,11.6 9.4,13.1" stroke="#222" stroke-width="0.8" fill="none"/>
<text x="6" y="18.2" text-anchor="middle" font-size="4.6" font-weight="bold" fill="#222">N</text>
<text class="lt" x="208.6" y="8.2" textLength="40.2" lengthAdjust="spacingAndGlyphs">pH (Kriging, second)</text>
<rect x="215.2" y="16.9" width="12" height="5.2" fill="#138fce"/>
<text class="l" x="229.3" y="21" textLength="17.2" lengthAdjust="spacingAndGlyphs">7.1 – 7.6</text>
<rect x="215.2" y="25.1" width="12" height="5.2" fill="#3fa3b7"/>
<text class="l" x="229.3" y="29.2" textLength="13.0" lengthAdjust="spacingAndGlyphs">7.6 – 8</text>
<rect x="215.2" y="33.3" width="12" height="5.2" fill="#7dbda0"/>
<text class="l" x="229.3" y="37.4" textLength="13.0" lengthAdjust="spacingAndGlyphs">8 – 8.2</text>
<rect x="215.2" y="41.5" width="12" height="5.2" fill="#b2d27c"/>
<text class="l" x="229.3" y="45.6" textLength="17.2" lengthAdjust="spacingAndGlyphs">8.2 – 8.4</text>
<rect x="215.2" y="49.7" width="12" height="5.2" fill="#e2ec62"/>
<text class="l" x="229.3" y="53.8" textLength="17.2" lengthAdjust="spacingAndGlyphs">8.4 – 8.5</text>
<rect x="215.2" y="57.9" width="12" height="5.2" fill="#ffe14a"/>
<text class="l" x="229.3" y="62" textLength="17.2" lengthAdjust="spacingAndGlyphs">8.5 – 8.6</text>
<rect x="215.2" y="66.1" width="12" height="5.2" fill="#fdb233"/>
<text class="l" x="229.3" y="70.2" textLength="17.2" lengthAdjust="spacingAndGlyphs">8.6 – 8.7</text>
<rect x="215.2" y="74.3" width="12" height="5.2" fill="#fd8a2b"/>
<text class="l" x="229.3" y="78.4" textLength="17.2" lengthAdjust="spacingAndGlyphs">8.7 – 8.7</text>
<rect x="215.2" y="82.5" width="12" height="5.2" fill="#fc5a1e"/>
<text class="l" x="229.3" y="86.6" textLength="17.2" lengthAdjust="spacingAndGlyphs">8.7 – 8.8</text>
<rect x="215.2" y="90.7" width="12" height="5.2" fill="#fa0f14"/>
<text class="l" x="229.3" y="94.8" textLength="17.2" lengthAdjust="spacingAndGlyphs">8.8 – 8.9</text>
<rect x="79.5" y="101.2" width="4.8" height="1.9" fill="#000"/>
<rect x="84.3" y="101.2" width="4.8" height="1.9" fill="#bdbdbd"/>
<rect x="89.2" y="101.2" width="4.8" height="1.9" fill="#000"/>
<rect x="94" y="101.2" width="4.8" height="1.9" fill="#bdbdbd"/>
<rect x="98.9" y="101.2" width="19.4" height="1.9" fill="#000"/>
<rect x="118.3" y="101.2" width="19.4" height="1.9" fill="#bdbdbd"/>
<rect x="137.7" y="101.2" width="19.4" height="1.9" fill="#000"/>
<text class="s" x="79.5" y="100.4" text-anchor="middle">0</text>
<text class="s" x="89.2" y="100.4" text-anchor="middle">0.05</text>
<text class="s" x="98.9" y="100.4" text-anchor="middle">0.1</text>
<text class="s" x="118.3" y="100.4" text-anchor="middle">0.2</text>
<text class="s" x="137.7" y="100.4" text-anchor="middle">0.3</text>
<text class="s" x="157.1" y="100.4" text-anchor="middle">0.4</text>
<text class="s" x="158.1" y="103">km</text>
</g>
<g transform="translate(289.30 272.60) scale(1.0072 1.0048)">
<text class="t" x="40.7" y="-2.5" textLength="19.2" lengthAdjust="spacingAndGlyphs">30°11'40"E</text>
<text class="t" x="38" y="109.6" textLength="19.2" lengthAdjust="spacingAndGlyphs">30°11'40"E</text>
<path class="k" d="M50.3,0v-1.6M47.6,104.1v1.6"/>
<text class="t" x="92.2" y="-2.5" textLength="19.2" lengthAdjust="spacingAndGlyphs">30°11'50"E</text>
<text class="t" x="89.3" y="109.6" textLength="19.2" lengthAdjust="spacingAndGlyphs">30°11'50"E</text>
<path class="k" d="M101.8,0v-1.6M98.9,104.1v1.6"/>
<text class="t" x="144.6" y="-2.5" textLength="17.0" lengthAdjust="spacingAndGlyphs">30°12'0"E</text>
<text class="t" x="141.8" y="109.6" textLength="17.0" lengthAdjust="spacingAndGlyphs">30°12'0"E</text>
<path class="k" d="M153.1,0v-1.6M150.3,104.1v1.6"/>
<text class="t" x="194.6" y="-2.5" textLength="18.8" lengthAdjust="spacingAndGlyphs">30°12'10"E</text>
<text class="t" x="192.4" y="109.6" textLength="18.8" lengthAdjust="spacingAndGlyphs">30°12'10"E</text>
<path class="k" d="M204,0v-1.6M201.8,104.1v1.6"/>
<text class="t" transform="translate(-2.6 42.1) rotate(-90)" x="-8.5" textLength="17.0" lengthAdjust="spacingAndGlyphs">30°22'0"N</text>
<path class="k" d="M0,42.1h-1.6"/>
<text class="t" transform="translate(-2.6 101.3) rotate(-90)" x="-9.5" textLength="19.0" lengthAdjust="spacingAndGlyphs">30°21'50"N</text>
<path class="k" d="M0,101.3h-1.6"/>
<text class="t" transform="translate(251.6 47.8) rotate(90)" x="-8.5" textLength="17.0" lengthAdjust="spacingAndGlyphs">30°22'0"N</text>
<path class="k" d="M249.4,47.8h1.6"/>
<rect x="0" y="0" width="249.4" height="104.1" fill="#fff" stroke="#555" stroke-width="0.9"/>
<g transform="translate(11.6 12.7)">
<rect x="0" y="0" width="197.8" height="84.6" fill="#138fce"/>
<path fill="#3fa3b7" fill-rule="evenodd" d="M0,0 197.8,0 197.8,84.6 100,84.6 97.4,83.4 88.9,81.3 44,67.8 19,59.1 4,54.5 0,53.5Z"/>
<path fill="#7dbda0" fill-rule="evenodd" d="M0,0 197.8,0 197.8,84.6 115,84.6 111.8,82.6 102.9,78.1 100.4,77.1 97.9,76.3 88.4,74.2 65.4,68.3 42.5,60.3 21,51.9 2.5,42.9 0,41.9Z"/>
<path fill="#b2d27c" fill-rule="evenodd" d="M5.9,0.5 6,0 197.8,0 197.8,84.6 128.1,84.6 126,83.1 122.4,81.3 101.4,72.3 98.4,71.4 88.2,69.1 66,63.1 43.6,55.6 25,48.5 22,47.1 13.4,42 10,39.7 7.9,37.5 4.9,33.5 3.6,31.5 2.6,29.5 0.9,23 0.8,20 2.8,10Z"/>
<path fill="#e2ec62" fill-rule="evenodd" d="M18.9,0.5 19,0 197.8,0 197.8,84.6 143.6,84.6 142.4,83.4 140.4,82 135.9,79.3 132.9,77.8 103.4,66.4 98.9,64.9 88,62.1 66.9,55.7 49.5,49.3 45,47.4 33.1,41.5 30,39.6 22,32.5 20.6,31 19.3,29 17.3,25 16.3,22.5 15.9,20.5 15.7,18 15.7,12.5 16,10 16.6,7.5Z"/>
<path fill="#ffe14a" fill-rule="evenodd" d="M30.9,0 197.8,0 197.8,84.6 159.3,84.6 158.1,83.1 156.5,81.6 151.3,77.6 135.9,68.9 131.4,66.8 114.8,60.6 102.4,56.4 88.4,52.9 66.4,46.3 58.4,43.4 48,39.1 44.5,37 38.1,32.5 36.3,31 33.9,28 31.4,24 30.4,22 29.8,20.5 29.4,18.5 28.8,10.5 29.2,7.5ZM172.8,9.5 170.6,10 168.3,10.9 167.1,11.5 165.8,12.5 165.1,13.5 164.9,14.5 165.2,15.5 166,16.5 168.3,18 171.3,19 174.8,19.7 178.3,19.7 181.8,19.2 185.2,18 187.5,16.5 188.5,15 188.5,13.5 188,12.5 186.8,11.5 184.3,10.3 181.3,9.5 178.8,9.2 175.8,9.1Z"/>
<path fill="#fdb233" fill-rule="evenodd" d="M43.7,0 150,0 147.1,1.5 137.9,4.8 135.4,5.9 132.7,8 129.1,12 128.6,13 128.4,14 129,16 132.3,21 133.7,22.5 135,23.5 144.4,28.3 147.9,29.7 161.8,33.3 165.8,34 169.8,34 183.8,33 186.8,32.4 194.8,29.8 197.8,29 197.8,84.6 168.9,84.6 167.3,82.1 165,79.6 152.8,69.2 149.3,66.9 136.4,59.4 133.4,57.9 129.9,56.7 113.9,51.8 80.4,43.3 65,39 60.4,37.3 53.2,33.5 49.9,31.5 47.5,29.3 43.1,23.5 42.2,22 41.6,20.5 41,16.5 40.7,12.5 40.7,10 41.2,7.5 43,2.5Z"/>
<path fill="#fd8a2b" fill-rule="evenodd" d="M57.8,0 129,0 120.9,2.5 111.9,6 109.3,7.5 107.4,9.5 106.4,11 105.8,12.5 105.8,14 106.1,15.5 106.9,17.5 108,19.5 109.2,21 112.9,25 114.2,27 114.8,29 115.1,31 115.2,32.5 114.9,33.9 114.2,35 113,36 110.3,37.5 107.9,38.5 104.4,39.2 96.9,39.9 92.4,39.3 69.4,34.3 66.3,33 60.4,30 58.4,28.9 56.9,27.6 55.4,25.5 53.3,21 52.7,19 52.6,16.5 53,12.5 53.7,9.5 54.4,7.5 57.1,2ZM194.4,37.5 197.8,37.1 197.8,84.6 174.2,84.6 173.5,83.1 172.3,81.3 161.4,68.1 154.7,58.6 153.8,56.6 153.5,55.1 153.6,53.1 154.2,51.1 155.1,49.6 157,48.1 163.3,44.3 166.3,43 169.3,42.2Z"/>
<path fill="#fc5a1e" fill-rule="evenodd" d="M77.9,0 104.3,0 100.9,0.8 98.4,1.2 86.4,1.6 83.9,1.5 79.9,0.8 78.6,0.5ZM195.4,42 197.8,41.6 197.8,84.6 179.7,84.6 178.3,81.6 170.8,70.6 167.7,64.1 167,62.1 166.7,60.1 166.9,58.1 167.5,56.1 168.8,53.6 170.3,52.1 178.8,47.1 182.8,45.5Z"/>
<path fill="#fa0f14" fill-rule="evenodd" d="M196.7,45.1 197.8,44.8 197.8,84.6 185.2,84.6 184.1,81.6 179.2,72.6 177,66.6 176.4,64.6 176.2,63.1 176.3,61.6 176.7,59.6 177.7,57.1 178.8,55.5 180.9,53.6 184.8,50.6 187.1,49.1 189.1,48.1Z"/>
</g>
<path d="M5.6,2.7L2.1,13.1" stroke="#c8c8c8" stroke-width="0.5" fill="none"/>
<path d="M5.6,2.7L9.4,13.1" stroke="#333" stroke-width="0.6" fill="none"/>
<path d="M2.1,13.3Q5.5,11.6 9.4,13.1" stroke="#222" stroke-width="0.8" fill="none"/>
<text x="6" y="18.2" text-anchor="middle" font-size="4.6" font-weight="bold" fill="#222">N</text>
<text class="lt" x="210.8" y="13.4" textLength="35.9" lengthAdjust="spacingAndGlyphs">pH (Kriging, Third)</text>
<rect x="215.2" y="16.9" width="12" height="5.2" fill="#138fce"/>
<text class="l" x="229.3" y="21" textLength="17.2" lengthAdjust="spacingAndGlyphs">7.1 – 7.6</text>
<rect x="215.2" y="25.1" width="12" height="5.2" fill="#3fa3b7"/>
<text class="l" x="229.3" y="29.2" textLength="13.0" lengthAdjust="spacingAndGlyphs">7.6 – 8</text>
<rect x="215.2" y="33.3" width="12" height="5.2" fill="#7dbda0"/>
<text class="l" x="229.3" y="37.4" textLength="13.0" lengthAdjust="spacingAndGlyphs">8 – 8.2</text>
<rect x="215.2" y="41.5" width="12" height="5.2" fill="#b2d27c"/>
<text class="l" x="229.3" y="45.6" textLength="17.2" lengthAdjust="spacingAndGlyphs">8.2 – 8.4</text>
<rect x="215.2" y="49.7" width="12" height="5.2" fill="#e2ec62"/>
<text class="l" x="229.3" y="53.8" textLength="17.2" lengthAdjust="spacingAndGlyphs">8.4 – 8.5</text>
<rect x="215.2" y="57.9" width="12" height="5.2" fill="#ffe14a"/>
<text class="l" x="229.3" y="62" textLength="17.2" lengthAdjust="spacingAndGlyphs">8.5 – 8.6</text>
<rect x="215.2" y="66.1" width="12" height="5.2" fill="#fdb233"/>
<text class="l" x="229.3" y="70.2" textLength="17.2" lengthAdjust="spacingAndGlyphs">8.6 – 8.7</text>
<rect x="215.2" y="74.3" width="12" height="5.2" fill="#fd8a2b"/>
<text class="l" x="229.3" y="78.4" textLength="17.2" lengthAdjust="spacingAndGlyphs">8.7 – 8.7</text>
<rect x="215.2" y="82.5" width="12" height="5.2" fill="#fc5a1e"/>
<text class="l" x="229.3" y="86.6" textLength="17.2" lengthAdjust="spacingAndGlyphs">8.7 – 8.8</text>
<rect x="215.2" y="90.7" width="12" height="5.2" fill="#fa0f14"/>
<text class="l" x="229.3" y="94.8" textLength="17.2" lengthAdjust="spacingAndGlyphs">8.8 – 8.9</text>
<rect x="79.5" y="101.2" width="4.8" height="1.9" fill="#000"/>
<rect x="84.3" y="101.2" width="4.8" height="1.9" fill="#bdbdbd"/>
<rect x="89.2" y="101.2" width="4.8" height="1.9" fill="#000"/>
<rect x="94" y="101.2" width="4.8" height="1.9" fill="#bdbdbd"/>
<rect x="98.9" y="101.2" width="19.4" height="1.9" fill="#000"/>
<rect x="118.3" y="101.2" width="19.4" height="1.9" fill="#bdbdbd"/>
<rect x="137.7" y="101.2" width="19.4" height="1.9" fill="#000"/>
<text class="s" x="79.5" y="100.4" text-anchor="middle">0</text>
<text class="s" x="89.2" y="100.4" text-anchor="middle">0.05</text>
<text class="s" x="98.9" y="100.4" text-anchor="middle">0.1</text>
<text class="s" x="118.3" y="100.4" text-anchor="middle">0.2</text>
<text class="s" x="137.7" y="100.4" text-anchor="middle">0.3</text>
<text class="s" x="157.1" y="100.4" text-anchor="middle">0.4</text>
<text class="s" x="158.1" y="103">km</text>
</g>
</svg></body></html>
